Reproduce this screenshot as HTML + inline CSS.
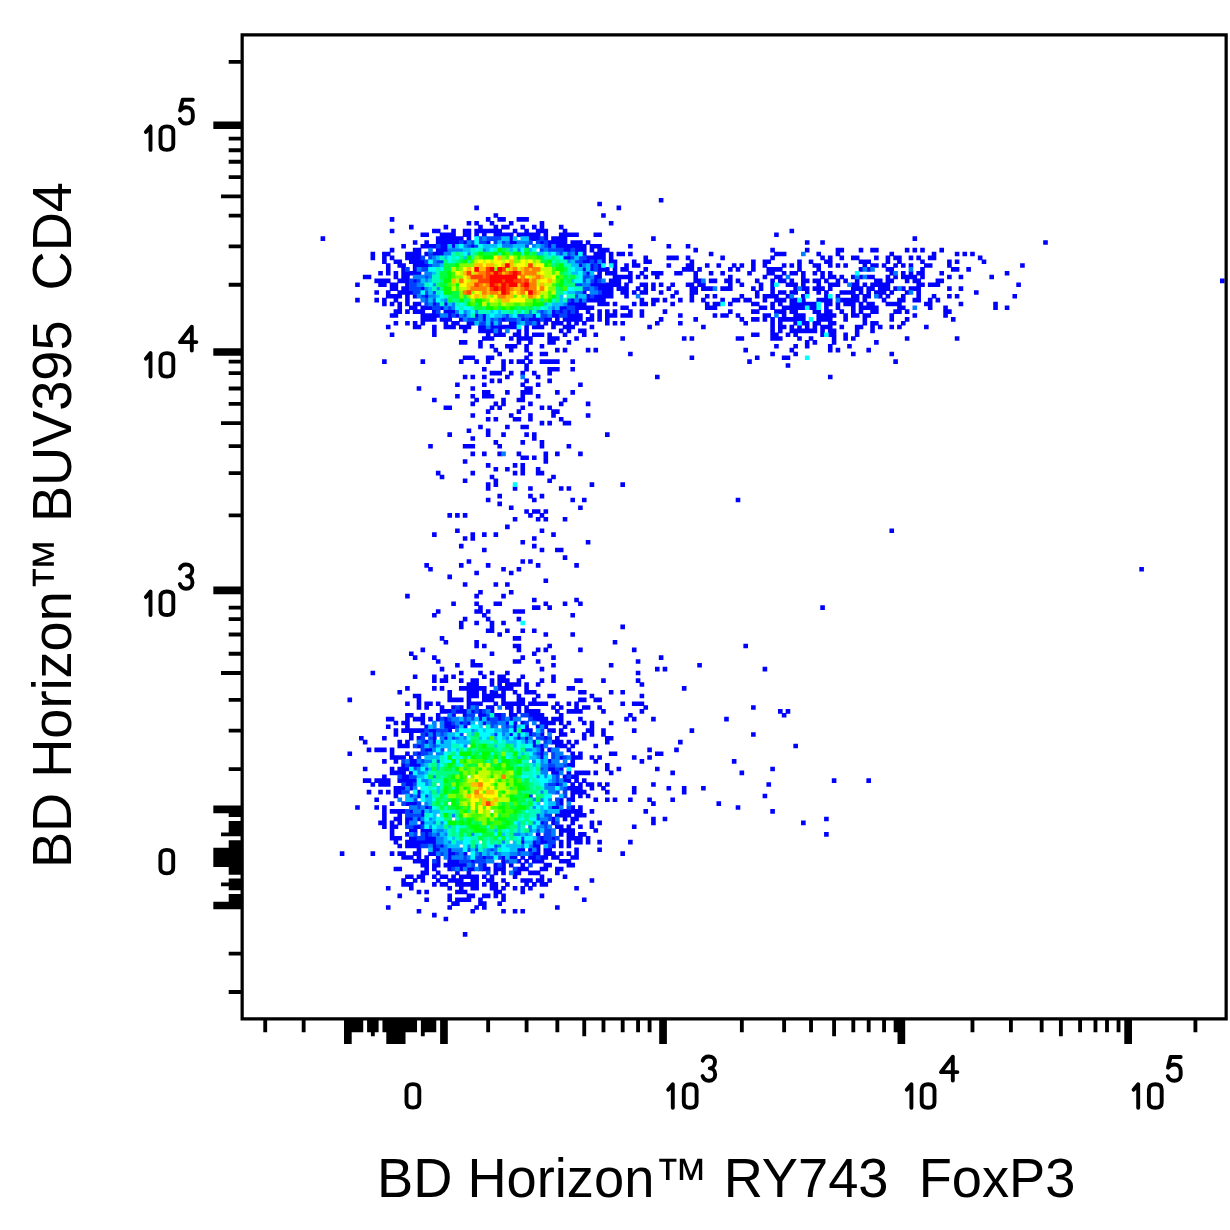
<!DOCTYPE html>
<html><head><meta charset="utf-8"><style>
html,body{margin:0;padding:0;background:#fff;}
body{width:1230px;height:1230px;position:relative;overflow:hidden;font-family:"Liberation Sans",sans-serif;color:#000}
svg{position:absolute;left:0;top:0}
.t{position:absolute;white-space:pre;line-height:1}
.lab{position:absolute;white-space:pre;line-height:1;font-size:38px;transform-origin:0 0}
</style></head><body>
<svg width="1230" height="1230" viewBox="0.5 0.42 320 320">
<g><path fill="#0000ff" d="M171.9 51.9h1.2v1.2h-1.2zM155.9 52.9h1.2v1.2h-1.2zM123.9 53.9h1.2v1.2h-1.2zM160.9 53.9h1.2v1.2h-1.2zM128.9 55.9h1.2v1.2h-1.2zM156.9 55.9h1.2v1.2h-1.2zM101.9 56.9h1.2v1.2h-1.2zM126.9 56.9h1.2v1.2h-1.2zM129.9 56.9h2.2v1.2h-2.2zM134.9 56.9h3.2v1.2h-3.2zM121.9 57.9h1.2v1.2h-1.2zM123.9 57.9h1.2v1.2h-1.2zM127.9 57.9h1.2v1.2h-1.2zM132.9 57.9h1.2v1.2h-1.2zM140.9 57.9h1.2v1.2h-1.2zM158.9 57.9h1.2v1.2h-1.2zM106.9 58.9h1.2v1.2h-1.2zM115.9 58.9h1.2v1.2h-1.2zM124.9 58.9h1.2v1.2h-1.2zM128.9 58.9h1.2v1.2h-1.2zM130.9 58.9h2.2v1.2h-2.2zM135.9 58.9h1.2v1.2h-1.2zM138.9 58.9h1.2v1.2h-1.2zM140.9 58.9h1.2v1.2h-1.2zM145.9 58.9h1.2v1.2h-1.2zM101.9 59.9h1.2v1.2h-1.2zM112.9 59.9h2.2v1.2h-2.2zM117.9 59.9h1.2v1.2h-1.2zM120.9 59.9h2.2v1.2h-2.2zM123.9 59.9h7.2v1.2h-7.2zM133.9 59.9h1.2v1.2h-1.2zM136.9 59.9h1.2v1.2h-1.2zM139.9 59.9h3.2v1.2h-3.2zM146.9 59.9h1.2v1.2h-1.2zM205.9 59.9h1.2v1.2h-1.2zM109.9 60.9h2.2v1.2h-2.2zM114.9 60.9h4.2v1.2h-4.2zM120.9 60.9h2.2v1.2h-2.2zM123.9 60.9h1.2v1.2h-1.2zM125.9 60.9h1.2v1.2h-1.2zM128.9 60.9h5.2v1.2h-5.2zM134.9 60.9h6.2v1.2h-6.2zM141.9 60.9h1.2v1.2h-1.2zM145.9 60.9h5.2v1.2h-5.2zM154.9 60.9h2.2v1.2h-2.2zM201.9 60.9h1.2v1.2h-1.2zM83.9 61.9h1.2v1.2h-1.2zM113.9 61.9h7.2v1.2h-7.2zM121.9 61.9h1.2v1.2h-1.2zM132.9 61.9h1.2v1.2h-1.2zM137.9 61.9h3.2v1.2h-3.2zM141.9 61.9h1.2v1.2h-1.2zM143.9 61.9h4.2v1.2h-4.2zM169.9 61.9h1.2v1.2h-1.2zM237.9 61.9h1.2v1.2h-1.2zM107.9 62.9h1.2v1.2h-1.2zM110.9 62.9h1.2v1.2h-1.2zM113.9 62.9h6.2v1.2h-6.2zM120.9 62.9h1.2v1.2h-1.2zM126.9 62.9h1.2v1.2h-1.2zM132.9 62.9h2.2v1.2h-2.2zM140.9 62.9h1.2v1.2h-1.2zM142.9 62.9h5.2v1.2h-5.2zM148.9 62.9h3.2v1.2h-3.2zM152.9 62.9h1.2v1.2h-1.2zM209.9 62.9h1.2v1.2h-1.2zM213.9 62.9h1.2v1.2h-1.2zM271.9 62.9h1.2v1.2h-1.2zM104.9 63.9h1.2v1.2h-1.2zM109.9 63.9h4.2v1.2h-4.2zM114.9 63.9h2.2v1.2h-2.2zM117.9 63.9h1.2v1.2h-1.2zM122.9 63.9h1.2v1.2h-1.2zM142.9 63.9h1.2v1.2h-1.2zM144.9 63.9h8.2v1.2h-8.2zM153.9 63.9h3.2v1.2h-3.2zM163.9 63.9h1.2v1.2h-1.2zM173.9 63.9h1.2v1.2h-1.2zM178.9 63.9h1.2v1.2h-1.2zM101.9 64.9h1.2v1.2h-1.2zM107.9 64.9h2.2v1.2h-2.2zM113.9 64.9h3.2v1.2h-3.2zM146.9 64.9h2.2v1.2h-2.2zM149.9 64.9h3.2v1.2h-3.2zM153.9 64.9h1.2v1.2h-1.2zM155.9 64.9h3.2v1.2h-3.2zM180.9 64.9h1.2v1.2h-1.2zM200.9 64.9h1.2v1.2h-1.2zM209.9 64.9h1.2v1.2h-1.2zM217.9 64.9h2.2v1.2h-2.2zM223.9 64.9h1.2v1.2h-1.2zM226.9 64.9h2.2v1.2h-2.2zM235.9 64.9h1.2v1.2h-1.2zM237.9 64.9h1.2v1.2h-1.2zM239.9 64.9h1.2v1.2h-1.2zM244.9 64.9h1.2v1.2h-1.2zM96.9 65.9h1.2v1.2h-1.2zM99.9 65.9h2.2v1.2h-2.2zM105.9 65.9h4.2v1.2h-4.2zM110.9 65.9h1.2v1.2h-1.2zM112.9 65.9h3.2v1.2h-3.2zM149.9 65.9h1.2v1.2h-1.2zM151.9 65.9h1.2v1.2h-1.2zM154.9 65.9h3.2v1.2h-3.2zM158.9 65.9h1.2v1.2h-1.2zM160.9 65.9h2.2v1.2h-2.2zM163.9 65.9h1.2v1.2h-1.2zM184.9 65.9h1.2v1.2h-1.2zM201.9 65.9h3.2v1.2h-3.2zM212.9 65.9h1.2v1.2h-1.2zM217.9 65.9h1.2v1.2h-1.2zM231.9 65.9h1.2v1.2h-1.2zM242.9 65.9h1.2v1.2h-1.2zM248.9 65.9h1.2v1.2h-1.2zM250.9 65.9h1.2v1.2h-1.2zM252.9 65.9h1.2v1.2h-1.2zM96.9 66.9h1.2v1.2h-1.2zM99.9 66.9h1.2v1.2h-1.2zM101.9 66.9h1.2v1.2h-1.2zM105.9 66.9h4.2v1.2h-4.2zM146.9 66.9h2.2v1.2h-2.2zM152.9 66.9h5.2v1.2h-5.2zM158.9 66.9h1.2v1.2h-1.2zM167.9 66.9h1.2v1.2h-1.2zM173.9 66.9h3.2v1.2h-3.2zM178.9 66.9h1.2v1.2h-1.2zM187.9 66.9h1.2v1.2h-1.2zM200.9 66.9h1.2v1.2h-1.2zM213.9 66.9h1.2v1.2h-1.2zM215.9 66.9h1.2v1.2h-1.2zM218.9 66.9h1.2v1.2h-1.2zM221.9 66.9h2.2v1.2h-2.2zM227.9 66.9h1.2v1.2h-1.2zM230.9 66.9h1.2v1.2h-1.2zM232.9 66.9h2.2v1.2h-2.2zM236.9 66.9h1.2v1.2h-1.2zM238.9 66.9h1.2v1.2h-1.2zM241.9 66.9h2.2v1.2h-2.2zM254.9 66.9h1.2v1.2h-1.2zM99.9 67.9h1.2v1.2h-1.2zM102.9 67.9h2.2v1.2h-2.2zM106.9 67.9h4.2v1.2h-4.2zM151.9 67.9h2.2v1.2h-2.2zM154.9 67.9h1.2v1.2h-1.2zM156.9 67.9h1.2v1.2h-1.2zM158.9 67.9h2.2v1.2h-2.2zM164.9 67.9h1.2v1.2h-1.2zM167.9 67.9h2.2v1.2h-2.2zM179.9 67.9h1.2v1.2h-1.2zM195.9 67.9h1.2v1.2h-1.2zM198.9 67.9h2.2v1.2h-2.2zM207.9 67.9h1.2v1.2h-1.2zM210.9 67.9h1.2v1.2h-1.2zM214.9 67.9h2.2v1.2h-2.2zM223.9 67.9h3.2v1.2h-3.2zM230.9 67.9h1.2v1.2h-1.2zM233.9 67.9h1.2v1.2h-1.2zM239.9 67.9h1.2v1.2h-1.2zM246.9 67.9h1.2v1.2h-1.2zM248.9 67.9h1.2v1.2h-1.2zM255.9 67.9h1.2v1.2h-1.2zM100.9 68.9h1.2v1.2h-1.2zM103.9 68.9h2.2v1.2h-2.2zM107.9 68.9h4.2v1.2h-4.2zM150.9 68.9h1.2v1.2h-1.2zM153.9 68.9h1.2v1.2h-1.2zM155.9 68.9h1.2v1.2h-1.2zM159.9 68.9h1.2v1.2h-1.2zM162.9 68.9h1.2v1.2h-1.2zM164.9 68.9h2.2v1.2h-2.2zM173.9 68.9h1.2v1.2h-1.2zM178.9 68.9h2.2v1.2h-2.2zM183.9 68.9h1.2v1.2h-1.2zM186.9 68.9h1.2v1.2h-1.2zM190.9 68.9h1.2v1.2h-1.2zM192.9 68.9h1.2v1.2h-1.2zM195.9 68.9h1.2v1.2h-1.2zM198.9 68.9h1.2v1.2h-1.2zM203.9 68.9h1.2v1.2h-1.2zM205.9 68.9h1.2v1.2h-1.2zM207.9 68.9h1.2v1.2h-1.2zM211.9 68.9h2.2v1.2h-2.2zM215.9 68.9h1.2v1.2h-1.2zM217.9 68.9h1.2v1.2h-1.2zM219.9 68.9h1.2v1.2h-1.2zM224.9 68.9h1.2v1.2h-1.2zM226.9 68.9h2.2v1.2h-2.2zM229.9 68.9h1.2v1.2h-1.2zM232.9 68.9h1.2v1.2h-1.2zM234.9 68.9h1.2v1.2h-1.2zM236.9 68.9h1.2v1.2h-1.2zM240.9 68.9h2.2v1.2h-2.2zM246.9 68.9h1.2v1.2h-1.2zM265.9 68.9h1.2v1.2h-1.2zM100.9 69.9h1.2v1.2h-1.2zM104.9 69.9h1.2v1.2h-1.2zM107.9 69.9h1.2v1.2h-1.2zM151.9 69.9h1.2v1.2h-1.2zM153.9 69.9h1.2v1.2h-1.2zM155.9 69.9h3.2v1.2h-3.2zM159.9 69.9h1.2v1.2h-1.2zM161.9 69.9h2.2v1.2h-2.2zM167.9 69.9h1.2v1.2h-1.2zM177.9 69.9h3.2v1.2h-3.2zM181.9 69.9h1.2v1.2h-1.2zM189.9 69.9h1.2v1.2h-1.2zM191.9 69.9h1.2v1.2h-1.2zM195.9 69.9h1.2v1.2h-1.2zM199.9 69.9h4.2v1.2h-4.2zM207.9 69.9h1.2v1.2h-1.2zM212.9 69.9h1.2v1.2h-1.2zM223.9 69.9h1.2v1.2h-1.2zM225.9 69.9h1.2v1.2h-1.2zM230.9 69.9h2.2v1.2h-2.2zM239.9 69.9h1.2v1.2h-1.2zM247.9 69.9h2.2v1.2h-2.2zM251.9 69.9h1.2v1.2h-1.2zM98.9 70.9h1.2v1.2h-1.2zM100.9 70.9h1.2v1.2h-1.2zM102.9 70.9h1.2v1.2h-1.2zM104.9 70.9h5.2v1.2h-5.2zM152.9 70.9h1.2v1.2h-1.2zM155.9 70.9h1.2v1.2h-1.2zM157.9 70.9h3.2v1.2h-3.2zM163.9 70.9h1.2v1.2h-1.2zM166.9 70.9h1.2v1.2h-1.2zM169.9 70.9h3.2v1.2h-3.2zM175.9 70.9h2.2v1.2h-2.2zM180.9 70.9h1.2v1.2h-1.2zM184.9 70.9h1.2v1.2h-1.2zM187.9 70.9h1.2v1.2h-1.2zM194.9 70.9h1.2v1.2h-1.2zM199.9 70.9h2.2v1.2h-2.2zM203.9 70.9h1.2v1.2h-1.2zM205.9 70.9h2.2v1.2h-2.2zM208.9 70.9h1.2v1.2h-1.2zM211.9 70.9h1.2v1.2h-1.2zM213.9 70.9h1.2v1.2h-1.2zM215.9 70.9h1.2v1.2h-1.2zM231.9 70.9h1.2v1.2h-1.2zM234.9 70.9h1.2v1.2h-1.2zM236.9 70.9h1.2v1.2h-1.2zM238.9 70.9h2.2v1.2h-2.2zM244.9 70.9h1.2v1.2h-1.2zM261.9 70.9h1.2v1.2h-1.2zM94.9 71.9h2.2v1.2h-2.2zM102.9 71.9h1.2v1.2h-1.2zM104.9 71.9h2.2v1.2h-2.2zM154.9 71.9h2.2v1.2h-2.2zM159.9 71.9h5.2v1.2h-5.2zM165.9 71.9h1.2v1.2h-1.2zM167.9 71.9h1.2v1.2h-1.2zM170.9 71.9h1.2v1.2h-1.2zM180.9 71.9h1.2v1.2h-1.2zM189.9 71.9h1.2v1.2h-1.2zM198.9 71.9h1.2v1.2h-1.2zM201.9 71.9h2.2v1.2h-2.2zM208.9 71.9h1.2v1.2h-1.2zM213.9 71.9h1.2v1.2h-1.2zM215.9 71.9h2.2v1.2h-2.2zM218.9 71.9h1.2v1.2h-1.2zM221.9 71.9h1.2v1.2h-1.2zM223.9 71.9h1.2v1.2h-1.2zM225.9 71.9h2.2v1.2h-2.2zM230.9 71.9h1.2v1.2h-1.2zM232.9 71.9h1.2v1.2h-1.2zM234.9 71.9h4.2v1.2h-4.2zM239.9 71.9h1.2v1.2h-1.2zM246.9 71.9h1.2v1.2h-1.2zM249.9 71.9h1.2v1.2h-1.2zM257.9 71.9h1.2v1.2h-1.2zM97.9 72.9h4.2v1.2h-4.2zM103.9 72.9h3.2v1.2h-3.2zM107.9 72.9h1.2v1.2h-1.2zM154.9 72.9h1.2v1.2h-1.2zM158.9 72.9h3.2v1.2h-3.2zM163.9 72.9h1.2v1.2h-1.2zM180.9 72.9h2.2v1.2h-2.2zM184.9 72.9h2.2v1.2h-2.2zM188.9 72.9h2.2v1.2h-2.2zM191.9 72.9h1.2v1.2h-1.2zM196.9 72.9h1.2v1.2h-1.2zM200.9 72.9h1.2v1.2h-1.2zM202.9 72.9h2.2v1.2h-2.2zM205.9 72.9h1.2v1.2h-1.2zM208.9 72.9h2.2v1.2h-2.2zM211.9 72.9h2.2v1.2h-2.2zM214.9 72.9h1.2v1.2h-1.2zM217.9 72.9h1.2v1.2h-1.2zM219.9 72.9h1.2v1.2h-1.2zM222.9 72.9h1.2v1.2h-1.2zM227.9 72.9h2.2v1.2h-2.2zM230.9 72.9h2.2v1.2h-2.2zM235.9 72.9h1.2v1.2h-1.2zM237.9 72.9h2.2v1.2h-2.2zM243.9 72.9h2.2v1.2h-2.2zM317.9 72.9h1.2v1.2h-1.2zM92.9 73.9h1.2v1.2h-1.2zM98.9 73.9h2.2v1.2h-2.2zM101.9 73.9h2.2v1.2h-2.2zM105.9 73.9h1.2v1.2h-1.2zM153.9 73.9h8.2v1.2h-8.2zM162.9 73.9h1.2v1.2h-1.2zM166.9 73.9h2.2v1.2h-2.2zM169.9 73.9h1.2v1.2h-1.2zM171.9 73.9h1.2v1.2h-1.2zM174.9 73.9h1.2v1.2h-1.2zM178.9 73.9h2.2v1.2h-2.2zM181.9 73.9h2.2v1.2h-2.2zM189.9 73.9h1.2v1.2h-1.2zM192.9 73.9h1.2v1.2h-1.2zM197.9 73.9h1.2v1.2h-1.2zM200.9 73.9h1.2v1.2h-1.2zM204.9 73.9h3.2v1.2h-3.2zM208.9 73.9h1.2v1.2h-1.2zM212.9 73.9h1.2v1.2h-1.2zM215.9 73.9h3.2v1.2h-3.2zM221.9 73.9h2.2v1.2h-2.2zM224.9 73.9h1.2v1.2h-1.2zM226.9 73.9h5.2v1.2h-5.2zM238.9 73.9h2.2v1.2h-2.2zM241.9 73.9h3.2v1.2h-3.2zM264.9 73.9h1.2v1.2h-1.2zM101.9 74.9h2.2v1.2h-2.2zM104.9 74.9h2.2v1.2h-2.2zM109.9 74.9h1.2v1.2h-1.2zM155.9 74.9h4.2v1.2h-4.2zM160.9 74.9h3.2v1.2h-3.2zM165.9 74.9h1.2v1.2h-1.2zM167.9 74.9h1.2v1.2h-1.2zM169.9 74.9h1.2v1.2h-1.2zM173.9 74.9h1.2v1.2h-1.2zM179.9 74.9h2.2v1.2h-2.2zM182.9 74.9h3.2v1.2h-3.2zM187.9 74.9h3.2v1.2h-3.2zM195.9 74.9h1.2v1.2h-1.2zM197.9 74.9h1.2v1.2h-1.2zM200.9 74.9h1.2v1.2h-1.2zM206.9 74.9h1.2v1.2h-1.2zM208.9 74.9h2.2v1.2h-2.2zM211.9 74.9h3.2v1.2h-3.2zM215.9 74.9h1.2v1.2h-1.2zM221.9 74.9h3.2v1.2h-3.2zM225.9 74.9h2.2v1.2h-2.2zM228.9 74.9h3.2v1.2h-3.2zM232.9 74.9h1.2v1.2h-1.2zM234.9 74.9h1.2v1.2h-1.2zM236.9 74.9h3.2v1.2h-3.2zM246.9 74.9h1.2v1.2h-1.2zM249.9 74.9h1.2v1.2h-1.2zM97.9 75.9h1.2v1.2h-1.2zM100.9 75.9h1.2v1.2h-1.2zM103.9 75.9h4.2v1.2h-4.2zM151.9 75.9h1.2v1.2h-1.2zM156.9 75.9h3.2v1.2h-3.2zM161.9 75.9h2.2v1.2h-2.2zM164.9 75.9h1.2v1.2h-1.2zM166.9 75.9h2.2v1.2h-2.2zM171.9 75.9h1.2v1.2h-1.2zM175.9 75.9h1.2v1.2h-1.2zM179.9 75.9h2.2v1.2h-2.2zM196.9 75.9h1.2v1.2h-1.2zM200.9 75.9h1.2v1.2h-1.2zM202.9 75.9h2.2v1.2h-2.2zM205.9 75.9h2.2v1.2h-2.2zM209.9 75.9h1.2v1.2h-1.2zM212.9 75.9h1.2v1.2h-1.2zM214.9 75.9h1.2v1.2h-1.2zM218.9 75.9h4.2v1.2h-4.2zM223.9 75.9h1.2v1.2h-1.2zM225.9 75.9h1.2v1.2h-1.2zM227.9 75.9h3.2v1.2h-3.2zM231.9 75.9h1.2v1.2h-1.2zM235.9 75.9h1.2v1.2h-1.2zM238.9 75.9h1.2v1.2h-1.2zM253.9 75.9h1.2v1.2h-1.2zM100.9 76.9h4.2v1.2h-4.2zM105.9 76.9h1.2v1.2h-1.2zM107.9 76.9h1.2v1.2h-1.2zM110.9 76.9h1.2v1.2h-1.2zM152.9 76.9h1.2v1.2h-1.2zM154.9 76.9h5.2v1.2h-5.2zM162.9 76.9h1.2v1.2h-1.2zM174.9 76.9h1.2v1.2h-1.2zM179.9 76.9h1.2v1.2h-1.2zM183.9 76.9h1.2v1.2h-1.2zM185.9 76.9h1.2v1.2h-1.2zM192.9 76.9h1.2v1.2h-1.2zM196.9 76.9h1.2v1.2h-1.2zM198.9 76.9h4.2v1.2h-4.2zM204.9 76.9h1.2v1.2h-1.2zM208.9 76.9h1.2v1.2h-1.2zM214.9 76.9h1.2v1.2h-1.2zM217.9 76.9h1.2v1.2h-1.2zM221.9 76.9h2.2v1.2h-2.2zM224.9 76.9h2.2v1.2h-2.2zM228.9 76.9h1.2v1.2h-1.2zM230.9 76.9h1.2v1.2h-1.2zM234.9 76.9h1.2v1.2h-1.2zM238.9 76.9h1.2v1.2h-1.2zM242.9 76.9h1.2v1.2h-1.2zM246.9 76.9h1.2v1.2h-1.2zM248.9 76.9h1.2v1.2h-1.2zM263.9 76.9h1.2v1.2h-1.2zM92.9 77.9h1.2v1.2h-1.2zM97.9 77.9h1.2v1.2h-1.2zM99.9 77.9h1.2v1.2h-1.2zM102.9 77.9h1.2v1.2h-1.2zM105.9 77.9h1.2v1.2h-1.2zM148.9 77.9h1.2v1.2h-1.2zM150.9 77.9h1.2v1.2h-1.2zM152.9 77.9h5.2v1.2h-5.2zM166.9 77.9h1.2v1.2h-1.2zM169.9 77.9h2.2v1.2h-2.2zM172.9 77.9h1.2v1.2h-1.2zM176.9 77.9h1.2v1.2h-1.2zM179.9 77.9h1.2v1.2h-1.2zM182.9 77.9h1.2v1.2h-1.2zM187.9 77.9h1.2v1.2h-1.2zM190.9 77.9h2.2v1.2h-2.2zM193.9 77.9h2.2v1.2h-2.2zM198.9 77.9h1.2v1.2h-1.2zM201.9 77.9h3.2v1.2h-3.2zM205.9 77.9h2.2v1.2h-2.2zM208.9 77.9h1.2v1.2h-1.2zM212.9 77.9h4.2v1.2h-4.2zM218.9 77.9h5.2v1.2h-5.2zM224.9 77.9h1.2v1.2h-1.2zM229.9 77.9h1.2v1.2h-1.2zM233.9 77.9h2.2v1.2h-2.2zM237.9 77.9h2.2v1.2h-2.2zM241.9 77.9h1.2v1.2h-1.2zM243.9 77.9h1.2v1.2h-1.2zM99.9 78.9h1.2v1.2h-1.2zM101.9 78.9h1.2v1.2h-1.2zM103.9 78.9h1.2v1.2h-1.2zM105.9 78.9h1.2v1.2h-1.2zM107.9 78.9h2.2v1.2h-2.2zM112.9 78.9h1.2v1.2h-1.2zM115.9 78.9h1.2v1.2h-1.2zM147.9 78.9h5.2v1.2h-5.2zM155.9 78.9h3.2v1.2h-3.2zM159.9 78.9h1.2v1.2h-1.2zM164.9 78.9h1.2v1.2h-1.2zM166.9 78.9h2.2v1.2h-2.2zM169.9 78.9h1.2v1.2h-1.2zM174.9 78.9h1.2v1.2h-1.2zM183.9 78.9h1.2v1.2h-1.2zM185.9 78.9h2.2v1.2h-2.2zM189.9 78.9h1.2v1.2h-1.2zM195.9 78.9h2.2v1.2h-2.2zM200.9 78.9h1.2v1.2h-1.2zM202.9 78.9h1.2v1.2h-1.2zM205.9 78.9h7.2v1.2h-7.2zM214.9 78.9h2.2v1.2h-2.2zM217.9 78.9h1.2v1.2h-1.2zM219.9 78.9h3.2v1.2h-3.2zM223.9 78.9h1.2v1.2h-1.2zM225.9 78.9h2.2v1.2h-2.2zM230.9 78.9h4.2v1.2h-4.2zM240.9 78.9h2.2v1.2h-2.2zM249.9 78.9h1.2v1.2h-1.2zM258.9 78.9h1.2v1.2h-1.2zM103.9 79.9h1.2v1.2h-1.2zM106.9 79.9h2.2v1.2h-2.2zM109.9 79.9h3.2v1.2h-3.2zM114.9 79.9h1.2v1.2h-1.2zM145.9 79.9h2.2v1.2h-2.2zM149.9 79.9h5.2v1.2h-5.2zM161.9 79.9h2.2v1.2h-2.2zM183.9 79.9h3.2v1.2h-3.2zM197.9 79.9h2.2v1.2h-2.2zM200.9 79.9h1.2v1.2h-1.2zM203.9 79.9h6.2v1.2h-6.2zM210.9 79.9h2.2v1.2h-2.2zM214.9 79.9h1.2v1.2h-1.2zM217.9 79.9h1.2v1.2h-1.2zM221.9 79.9h1.2v1.2h-1.2zM223.9 79.9h5.2v1.2h-5.2zM233.9 79.9h2.2v1.2h-2.2zM241.9 79.9h1.2v1.2h-1.2zM245.9 79.9h1.2v1.2h-1.2zM258.9 79.9h1.2v1.2h-1.2zM261.9 79.9h1.2v1.2h-1.2zM102.9 80.9h2.2v1.2h-2.2zM105.9 80.9h1.2v1.2h-1.2zM107.9 80.9h3.2v1.2h-3.2zM112.9 80.9h1.2v1.2h-1.2zM115.9 80.9h3.2v1.2h-3.2zM143.9 80.9h1.2v1.2h-1.2zM145.9 80.9h1.2v1.2h-1.2zM147.9 80.9h1.2v1.2h-1.2zM149.9 80.9h1.2v1.2h-1.2zM152.9 80.9h1.2v1.2h-1.2zM155.9 80.9h1.2v1.2h-1.2zM157.9 80.9h1.2v1.2h-1.2zM159.9 80.9h1.2v1.2h-1.2zM163.9 80.9h1.2v1.2h-1.2zM166.9 80.9h1.2v1.2h-1.2zM172.9 80.9h1.2v1.2h-1.2zM189.9 80.9h1.2v1.2h-1.2zM195.9 80.9h2.2v1.2h-2.2zM201.9 80.9h3.2v1.2h-3.2zM205.9 80.9h2.2v1.2h-2.2zM211.9 80.9h2.2v1.2h-2.2zM214.9 80.9h2.2v1.2h-2.2zM218.9 80.9h1.2v1.2h-1.2zM221.9 80.9h1.2v1.2h-1.2zM223.9 80.9h1.2v1.2h-1.2zM226.9 80.9h2.2v1.2h-2.2zM232.9 80.9h2.2v1.2h-2.2zM235.9 80.9h1.2v1.2h-1.2zM245.9 80.9h2.2v1.2h-2.2zM101.9 81.9h2.2v1.2h-2.2zM109.9 81.9h5.2v1.2h-5.2zM116.9 81.9h1.2v1.2h-1.2zM118.9 81.9h1.2v1.2h-1.2zM123.9 81.9h1.2v1.2h-1.2zM125.9 81.9h1.2v1.2h-1.2zM138.9 81.9h1.2v1.2h-1.2zM143.9 81.9h2.2v1.2h-2.2zM147.9 81.9h4.2v1.2h-4.2zM153.9 81.9h1.2v1.2h-1.2zM155.9 81.9h1.2v1.2h-1.2zM157.9 81.9h3.2v1.2h-3.2zM161.9 81.9h3.2v1.2h-3.2zM166.9 81.9h1.2v1.2h-1.2zM176.9 81.9h1.2v1.2h-1.2zM185.9 81.9h1.2v1.2h-1.2zM187.9 81.9h2.2v1.2h-2.2zM191.9 81.9h1.2v1.2h-1.2zM198.9 81.9h2.2v1.2h-2.2zM203.9 81.9h1.2v1.2h-1.2zM206.9 81.9h3.2v1.2h-3.2zM212.9 81.9h5.2v1.2h-5.2zM219.9 81.9h1.2v1.2h-1.2zM221.9 81.9h2.2v1.2h-2.2zM224.9 81.9h2.2v1.2h-2.2zM231.9 81.9h1.2v1.2h-1.2zM237.9 81.9h1.2v1.2h-1.2zM245.9 81.9h1.2v1.2h-1.2zM109.9 82.9h4.2v1.2h-4.2zM114.9 82.9h3.2v1.2h-3.2zM119.9 82.9h1.2v1.2h-1.2zM125.9 82.9h1.2v1.2h-1.2zM130.9 82.9h1.2v1.2h-1.2zM135.9 82.9h1.2v1.2h-1.2zM137.9 82.9h3.2v1.2h-3.2zM141.9 82.9h2.2v1.2h-2.2zM144.9 82.9h1.2v1.2h-1.2zM146.9 82.9h5.2v1.2h-5.2zM152.9 82.9h2.2v1.2h-2.2zM155.9 82.9h1.2v1.2h-1.2zM157.9 82.9h1.2v1.2h-1.2zM171.9 82.9h1.2v1.2h-1.2zM180.9 82.9h1.2v1.2h-1.2zM192.9 82.9h1.2v1.2h-1.2zM195.9 82.9h2.2v1.2h-2.2zM198.9 82.9h1.2v1.2h-1.2zM200.9 82.9h1.2v1.2h-1.2zM202.9 82.9h7.2v1.2h-7.2zM212.9 82.9h4.2v1.2h-4.2zM219.9 82.9h1.2v1.2h-1.2zM224.9 82.9h1.2v1.2h-1.2zM231.9 82.9h1.2v1.2h-1.2zM235.9 82.9h1.2v1.2h-1.2zM247.9 82.9h1.2v1.2h-1.2zM102.9 83.9h1.2v1.2h-1.2zM105.9 83.9h1.2v1.2h-1.2zM107.9 83.9h1.2v1.2h-1.2zM109.9 83.9h1.2v1.2h-1.2zM115.9 83.9h1.2v1.2h-1.2zM117.9 83.9h2.2v1.2h-2.2zM121.9 83.9h2.2v1.2h-2.2zM127.9 83.9h1.2v1.2h-1.2zM132.9 83.9h2.2v1.2h-2.2zM139.9 83.9h1.2v1.2h-1.2zM141.9 83.9h1.2v1.2h-1.2zM143.9 83.9h3.2v1.2h-3.2zM147.9 83.9h1.2v1.2h-1.2zM149.9 83.9h1.2v1.2h-1.2zM151.9 83.9h1.2v1.2h-1.2zM157.9 83.9h1.2v1.2h-1.2zM159.9 83.9h1.2v1.2h-1.2zM161.9 83.9h1.2v1.2h-1.2zM170.9 83.9h1.2v1.2h-1.2zM176.9 83.9h1.2v1.2h-1.2zM193.9 83.9h1.2v1.2h-1.2zM200.9 83.9h1.2v1.2h-1.2zM202.9 83.9h1.2v1.2h-1.2zM206.9 83.9h1.2v1.2h-1.2zM208.9 83.9h2.2v1.2h-2.2zM211.9 83.9h2.2v1.2h-2.2zM215.9 83.9h2.2v1.2h-2.2zM224.9 83.9h1.2v1.2h-1.2zM226.9 83.9h2.2v1.2h-2.2zM234.9 83.9h1.2v1.2h-1.2zM100.9 84.9h1.2v1.2h-1.2zM107.9 84.9h2.2v1.2h-2.2zM112.9 84.9h1.2v1.2h-1.2zM115.9 84.9h3.2v1.2h-3.2zM119.9 84.9h3.2v1.2h-3.2zM124.9 84.9h2.2v1.2h-2.2zM127.9 84.9h7.2v1.2h-7.2zM136.9 84.9h1.2v1.2h-1.2zM138.9 84.9h3.2v1.2h-3.2zM143.9 84.9h1.2v1.2h-1.2zM146.9 84.9h3.2v1.2h-3.2zM153.9 84.9h1.2v1.2h-1.2zM168.9 84.9h1.2v1.2h-1.2zM182.9 84.9h1.2v1.2h-1.2zM200.9 84.9h1.2v1.2h-1.2zM202.9 84.9h2.2v1.2h-2.2zM205.9 84.9h1.2v1.2h-1.2zM207.9 84.9h1.2v1.2h-1.2zM209.9 84.9h1.2v1.2h-1.2zM211.9 84.9h1.2v1.2h-1.2zM213.9 84.9h3.2v1.2h-3.2zM218.9 84.9h1.2v1.2h-1.2zM222.9 84.9h2.2v1.2h-2.2zM226.9 84.9h1.2v1.2h-1.2zM228.9 84.9h1.2v1.2h-1.2zM231.9 84.9h1.2v1.2h-1.2zM233.9 84.9h1.2v1.2h-1.2zM240.9 84.9h1.2v1.2h-1.2zM112.9 85.9h1.2v1.2h-1.2zM120.9 85.9h1.2v1.2h-1.2zM124.9 85.9h4.2v1.2h-4.2zM129.9 85.9h1.2v1.2h-1.2zM134.9 85.9h1.2v1.2h-1.2zM136.9 85.9h1.2v1.2h-1.2zM145.9 85.9h1.2v1.2h-1.2zM147.9 85.9h1.2v1.2h-1.2zM150.9 85.9h2.2v1.2h-2.2zM200.9 85.9h1.2v1.2h-1.2zM202.9 85.9h1.2v1.2h-1.2zM205.9 85.9h7.2v1.2h-7.2zM213.9 85.9h1.2v1.2h-1.2zM215.9 85.9h2.2v1.2h-2.2zM222.9 85.9h1.2v1.2h-1.2zM226.9 85.9h1.2v1.2h-1.2zM101.9 86.9h1.2v1.2h-1.2zM112.9 86.9h1.2v1.2h-1.2zM126.9 86.9h1.2v1.2h-1.2zM128.9 86.9h3.2v1.2h-3.2zM133.9 86.9h2.2v1.2h-2.2zM136.9 86.9h1.2v1.2h-1.2zM138.9 86.9h3.2v1.2h-3.2zM142.9 86.9h1.2v1.2h-1.2zM146.9 86.9h1.2v1.2h-1.2zM151.9 86.9h1.2v1.2h-1.2zM154.9 86.9h1.2v1.2h-1.2zM195.9 86.9h2.2v1.2h-2.2zM200.9 86.9h2.2v1.2h-2.2zM204.9 86.9h1.2v1.2h-1.2zM206.9 86.9h1.2v1.2h-1.2zM213.9 86.9h1.2v1.2h-1.2zM215.9 86.9h2.2v1.2h-2.2zM219.9 86.9h1.2v1.2h-1.2zM222.9 86.9h1.2v1.2h-1.2zM125.9 87.9h3.2v1.2h-3.2zM132.9 87.9h1.2v1.2h-1.2zM134.9 87.9h4.2v1.2h-4.2zM142.9 87.9h3.2v1.2h-3.2zM149.9 87.9h1.2v1.2h-1.2zM161.9 87.9h1.2v1.2h-1.2zM177.9 87.9h1.2v1.2h-1.2zM179.9 87.9h1.2v1.2h-1.2zM191.9 87.9h2.2v1.2h-2.2zM200.9 87.9h3.2v1.2h-3.2zM207.9 87.9h1.2v1.2h-1.2zM210.9 87.9h1.2v1.2h-1.2zM216.9 87.9h1.2v1.2h-1.2zM219.9 87.9h1.2v1.2h-1.2zM221.9 87.9h1.2v1.2h-1.2zM235.9 87.9h1.2v1.2h-1.2zM248.9 87.9h1.2v1.2h-1.2zM119.9 88.9h2.2v1.2h-2.2zM124.9 88.9h1.2v1.2h-1.2zM134.9 88.9h1.2v1.2h-1.2zM137.9 88.9h1.2v1.2h-1.2zM142.9 88.9h2.2v1.2h-2.2zM147.9 88.9h1.2v1.2h-1.2zM209.9 88.9h1.2v1.2h-1.2zM211.9 88.9h1.2v1.2h-1.2zM216.9 88.9h1.2v1.2h-1.2zM227.9 88.9h1.2v1.2h-1.2zM124.9 89.9h1.2v1.2h-1.2zM127.9 89.9h1.2v1.2h-1.2zM131.9 89.9h3.2v1.2h-3.2zM136.9 89.9h1.2v1.2h-1.2zM140.9 89.9h1.2v1.2h-1.2zM201.9 89.9h1.2v1.2h-1.2zM206.9 89.9h1.2v1.2h-1.2zM209.9 89.9h1.2v1.2h-1.2zM215.9 89.9h1.2v1.2h-1.2zM220.9 89.9h1.2v1.2h-1.2zM128.9 90.9h1.2v1.2h-1.2zM132.9 90.9h1.2v1.2h-1.2zM136.9 90.9h1.2v1.2h-1.2zM144.9 90.9h1.2v1.2h-1.2zM146.9 90.9h1.2v1.2h-1.2zM152.9 90.9h1.2v1.2h-1.2zM154.9 90.9h1.2v1.2h-1.2zM193.9 90.9h1.2v1.2h-1.2zM205.9 90.9h1.2v1.2h-1.2zM215.9 90.9h1.2v1.2h-1.2zM217.9 90.9h1.2v1.2h-1.2zM225.9 90.9h1.2v1.2h-1.2zM129.9 91.9h1.2v1.2h-1.2zM137.9 91.9h1.2v1.2h-1.2zM140.9 91.9h2.2v1.2h-2.2zM163.9 91.9h1.2v1.2h-1.2zM200.9 91.9h1.2v1.2h-1.2zM206.9 91.9h1.2v1.2h-1.2zM221.9 91.9h1.2v1.2h-1.2zM231.9 91.9h1.2v1.2h-1.2zM120.9 92.9h3.2v1.2h-3.2zM126.9 92.9h2.2v1.2h-2.2zM136.9 92.9h1.2v1.2h-1.2zM179.9 92.9h1.2v1.2h-1.2zM196.9 92.9h1.2v1.2h-1.2zM203.9 92.9h2.2v1.2h-2.2zM99.9 93.9h1.2v1.2h-1.2zM109.9 93.9h1.2v1.2h-1.2zM119.9 93.9h1.2v1.2h-1.2zM123.9 93.9h1.2v1.2h-1.2zM126.9 93.9h1.2v1.2h-1.2zM130.9 93.9h1.2v1.2h-1.2zM132.9 93.9h1.2v1.2h-1.2zM134.9 93.9h2.2v1.2h-2.2zM137.9 93.9h1.2v1.2h-1.2zM140.9 93.9h5.2v1.2h-5.2zM148.9 93.9h1.2v1.2h-1.2zM194.9 93.9h1.2v1.2h-1.2zM232.9 93.9h1.2v1.2h-1.2zM130.9 94.9h1.2v1.2h-1.2zM136.9 94.9h1.2v1.2h-1.2zM204.9 94.9h1.2v1.2h-1.2zM125.9 95.9h1.2v1.2h-1.2zM130.9 95.9h1.2v1.2h-1.2zM136.9 95.9h1.2v1.2h-1.2zM142.9 95.9h3.2v1.2h-3.2zM148.9 95.9h1.2v1.2h-1.2zM127.9 96.9h3.2v1.2h-3.2zM132.9 96.9h1.2v1.2h-1.2zM135.9 96.9h1.2v1.2h-1.2zM138.9 96.9h1.2v1.2h-1.2zM142.9 96.9h1.2v1.2h-1.2zM120.9 97.9h1.2v1.2h-1.2zM122.9 97.9h1.2v1.2h-1.2zM125.9 97.9h1.2v1.2h-1.2zM131.9 97.9h1.2v1.2h-1.2zM139.9 97.9h1.2v1.2h-1.2zM170.9 97.9h1.2v1.2h-1.2zM215.9 97.9h1.2v1.2h-1.2zM127.9 98.9h1.2v1.2h-1.2zM129.9 98.9h1.2v1.2h-1.2zM136.9 98.9h1.2v1.2h-1.2zM142.9 98.9h1.2v1.2h-1.2zM118.9 99.9h1.2v1.2h-1.2zM125.9 99.9h1.2v1.2h-1.2zM135.9 99.9h1.2v1.2h-1.2zM139.9 99.9h1.2v1.2h-1.2zM150.9 99.9h1.2v1.2h-1.2zM108.9 100.9h1.2v1.2h-1.2zM122.9 100.9h1.2v1.2h-1.2zM136.9 100.9h2.2v1.2h-2.2zM125.9 101.9h2.2v1.2h-2.2zM131.9 101.9h1.2v1.2h-1.2zM135.9 101.9h3.2v1.2h-3.2zM144.9 101.9h1.2v1.2h-1.2zM148.9 101.9h1.2v1.2h-1.2zM118.9 102.9h1.2v1.2h-1.2zM122.9 102.9h1.2v1.2h-1.2zM125.9 102.9h3.2v1.2h-3.2zM135.9 102.9h1.2v1.2h-1.2zM139.9 102.9h1.2v1.2h-1.2zM112.9 103.9h1.2v1.2h-1.2zM123.9 103.9h1.2v1.2h-1.2zM130.9 103.9h1.2v1.2h-1.2zM134.9 103.9h2.2v1.2h-2.2zM146.9 103.9h1.2v1.2h-1.2zM122.9 104.9h1.2v1.2h-1.2zM128.9 104.9h1.2v1.2h-1.2zM130.9 104.9h1.2v1.2h-1.2zM137.9 104.9h1.2v1.2h-1.2zM145.9 104.9h1.2v1.2h-1.2zM152.9 104.9h1.2v1.2h-1.2zM115.9 105.9h2.2v1.2h-2.2zM127.9 105.9h1.2v1.2h-1.2zM129.9 105.9h1.2v1.2h-1.2zM135.9 105.9h1.2v1.2h-1.2zM140.9 105.9h1.2v1.2h-1.2zM142.9 105.9h1.2v1.2h-1.2zM126.9 106.9h1.2v1.2h-1.2zM134.9 106.9h1.2v1.2h-1.2zM143.9 106.9h2.2v1.2h-2.2zM122.9 107.9h1.2v1.2h-1.2zM132.9 107.9h1.2v1.2h-1.2zM137.9 107.9h1.2v1.2h-1.2zM143.9 107.9h1.2v1.2h-1.2zM152.9 107.9h1.2v1.2h-1.2zM126.9 108.9h1.2v1.2h-1.2zM128.9 108.9h1.2v1.2h-1.2zM133.9 108.9h2.2v1.2h-2.2zM137.9 108.9h1.2v1.2h-1.2zM145.9 108.9h1.2v1.2h-1.2zM140.9 109.9h1.2v1.2h-1.2zM142.9 109.9h1.2v1.2h-1.2zM146.9 109.9h2.2v1.2h-2.2zM124.9 110.9h1.2v1.2h-1.2zM131.9 110.9h1.2v1.2h-1.2zM135.9 110.9h2.2v1.2h-2.2zM121.9 111.9h1.2v1.2h-1.2zM126.9 111.9h1.2v1.2h-1.2zM116.9 112.9h1.2v1.2h-1.2zM126.9 112.9h1.2v1.2h-1.2zM130.9 112.9h1.2v1.2h-1.2zM136.9 112.9h1.2v1.2h-1.2zM138.9 112.9h1.2v1.2h-1.2zM157.9 112.9h1.2v1.2h-1.2zM122.9 113.9h1.2v1.2h-1.2zM138.9 113.9h1.2v1.2h-1.2zM128.9 114.9h1.2v1.2h-1.2zM135.9 114.9h1.2v1.2h-1.2zM140.9 114.9h1.2v1.2h-1.2zM111.9 115.9h1.2v1.2h-1.2zM120.9 115.9h3.2v1.2h-3.2zM129.9 115.9h1.2v1.2h-1.2zM140.9 115.9h1.2v1.2h-1.2zM147.9 115.9h1.2v1.2h-1.2zM122.9 117.9h1.2v1.2h-1.2zM125.9 117.9h1.2v1.2h-1.2zM129.9 117.9h1.2v1.2h-1.2zM134.9 117.9h1.2v1.2h-1.2zM141.9 117.9h1.2v1.2h-1.2zM144.9 117.9h1.2v1.2h-1.2zM150.9 117.9h1.2v1.2h-1.2zM135.9 118.9h2.2v1.2h-2.2zM138.9 118.9h1.2v1.2h-1.2zM141.9 118.9h1.2v1.2h-1.2zM120.9 119.9h1.2v1.2h-1.2zM141.9 119.9h1.2v1.2h-1.2zM126.9 120.9h1.2v1.2h-1.2zM133.9 120.9h1.2v1.2h-1.2zM135.9 120.9h1.2v1.2h-1.2zM128.9 121.9h1.2v1.2h-1.2zM131.9 121.9h1.2v1.2h-1.2zM135.9 121.9h1.2v1.2h-1.2zM139.9 121.9h1.2v1.2h-1.2zM113.9 122.9h1.2v1.2h-1.2zM122.9 122.9h1.2v1.2h-1.2zM133.9 122.9h1.2v1.2h-1.2zM135.9 122.9h1.2v1.2h-1.2zM139.9 122.9h2.2v1.2h-2.2zM114.9 123.9h1.2v1.2h-1.2zM127.9 123.9h1.2v1.2h-1.2zM143.9 123.9h1.2v1.2h-1.2zM120.9 124.9h1.2v1.2h-1.2zM128.9 124.9h1.2v1.2h-1.2zM142.9 124.9h1.2v1.2h-1.2zM126.9 125.9h1.2v1.2h-1.2zM128.9 125.9h1.2v1.2h-1.2zM153.9 125.9h1.2v1.2h-1.2zM161.9 125.9h1.2v1.2h-1.2zM126.9 126.9h1.2v1.2h-1.2zM133.9 126.9h1.2v1.2h-1.2zM137.9 126.9h1.2v1.2h-1.2zM145.9 126.9h1.2v1.2h-1.2zM147.9 126.9h1.2v1.2h-1.2zM129.9 128.9h1.2v1.2h-1.2zM137.9 128.9h1.2v1.2h-1.2zM140.9 128.9h1.2v1.2h-1.2zM126.9 129.9h1.2v1.2h-1.2zM138.9 129.9h1.2v1.2h-1.2zM148.9 129.9h1.2v1.2h-1.2zM151.9 129.9h1.2v1.2h-1.2zM191.9 129.9h1.2v1.2h-1.2zM129.9 130.9h1.2v1.2h-1.2zM132.9 131.9h1.2v1.2h-1.2zM150.9 131.9h1.2v1.2h-1.2zM136.9 132.9h1.2v1.2h-1.2zM138.9 132.9h2.2v1.2h-2.2zM141.9 132.9h1.2v1.2h-1.2zM116.9 133.9h1.2v1.2h-1.2zM118.9 133.9h1.2v1.2h-1.2zM120.9 133.9h1.2v1.2h-1.2zM137.9 133.9h1.2v1.2h-1.2zM140.9 133.9h1.2v1.2h-1.2zM133.9 134.9h1.2v1.2h-1.2zM139.9 134.9h1.2v1.2h-1.2zM141.9 134.9h1.2v1.2h-1.2zM146.9 134.9h1.2v1.2h-1.2zM131.9 136.9h1.2v1.2h-1.2zM118.9 137.9h1.2v1.2h-1.2zM140.9 137.9h1.2v1.2h-1.2zM231.9 137.9h1.2v1.2h-1.2zM112.9 138.9h1.2v1.2h-1.2zM122.9 138.9h1.2v1.2h-1.2zM125.9 138.9h1.2v1.2h-1.2zM128.9 138.9h1.2v1.2h-1.2zM143.9 138.9h1.2v1.2h-1.2zM120.9 139.9h1.2v1.2h-1.2zM122.9 139.9h1.2v1.2h-1.2zM138.9 139.9h1.2v1.2h-1.2zM135.9 140.9h1.2v1.2h-1.2zM152.9 140.9h1.2v1.2h-1.2zM119.9 141.9h1.2v1.2h-1.2zM138.9 141.9h1.2v1.2h-1.2zM125.9 142.9h1.2v1.2h-1.2zM140.9 142.9h1.2v1.2h-1.2zM144.9 142.9h2.2v1.2h-2.2zM146.9 144.9h1.2v1.2h-1.2zM121.9 145.9h1.2v1.2h-1.2zM135.9 145.9h1.2v1.2h-1.2zM137.9 145.9h1.2v1.2h-1.2zM110.9 146.9h1.2v1.2h-1.2zM119.9 146.9h1.2v1.2h-1.2zM126.9 146.9h1.2v1.2h-1.2zM139.9 146.9h1.2v1.2h-1.2zM149.9 146.9h1.2v1.2h-1.2zM111.9 147.9h1.2v1.2h-1.2zM130.9 147.9h1.2v1.2h-1.2zM134.9 147.9h1.2v1.2h-1.2zM296.9 147.9h1.2v1.2h-1.2zM123.9 148.9h1.2v1.2h-1.2zM132.9 148.9h1.2v1.2h-1.2zM116.9 149.9h1.2v1.2h-1.2zM141.9 150.9h1.2v1.2h-1.2zM120.9 151.9h1.2v1.2h-1.2zM128.9 151.9h1.2v1.2h-1.2zM131.9 151.9h1.2v1.2h-1.2zM124.9 153.9h1.2v1.2h-1.2zM132.9 153.9h1.2v1.2h-1.2zM105.9 154.9h1.2v1.2h-1.2zM123.9 154.9h1.2v1.2h-1.2zM130.9 154.9h1.2v1.2h-1.2zM138.9 155.9h1.2v1.2h-1.2zM149.9 155.9h1.2v1.2h-1.2zM117.9 156.9h1.2v1.2h-1.2zM123.9 156.9h1.2v1.2h-1.2zM128.9 156.9h2.2v1.2h-2.2zM141.9 156.9h1.2v1.2h-1.2zM146.9 156.9h1.2v1.2h-1.2zM150.9 156.9h1.2v1.2h-1.2zM124.9 157.9h1.2v1.2h-1.2zM138.9 157.9h2.2v1.2h-2.2zM142.9 157.9h1.2v1.2h-1.2zM213.9 157.9h1.2v1.2h-1.2zM113.9 158.9h1.2v1.2h-1.2zM123.9 158.9h2.2v1.2h-2.2zM126.9 158.9h1.2v1.2h-1.2zM133.9 158.9h3.2v1.2h-3.2zM112.9 159.9h1.2v1.2h-1.2zM125.9 159.9h1.2v1.2h-1.2zM148.9 159.9h1.2v1.2h-1.2zM120.9 160.9h1.2v1.2h-1.2zM126.9 160.9h1.2v1.2h-1.2zM134.9 160.9h1.2v1.2h-1.2zM119.9 161.9h1.2v1.2h-1.2zM123.9 161.9h1.2v1.2h-1.2zM127.9 161.9h1.2v1.2h-1.2zM130.9 161.9h1.2v1.2h-1.2zM119.9 162.9h1.2v1.2h-1.2zM127.9 162.9h1.2v1.2h-1.2zM161.9 162.9h1.2v1.2h-1.2zM126.9 163.9h2.2v1.2h-2.2zM131.9 163.9h1.2v1.2h-1.2zM135.9 163.9h1.2v1.2h-1.2zM138.9 163.9h1.2v1.2h-1.2zM129.9 164.9h1.2v1.2h-1.2zM141.9 164.9h1.2v1.2h-1.2zM148.9 164.9h1.2v1.2h-1.2zM114.9 165.9h1.2v1.2h-1.2zM133.9 165.9h2.2v1.2h-2.2zM115.9 166.9h1.2v1.2h-1.2zM123.9 166.9h1.2v1.2h-1.2zM159.9 166.9h1.2v1.2h-1.2zM123.9 167.9h1.2v1.2h-1.2zM125.9 167.9h1.2v1.2h-1.2zM133.9 167.9h2.2v1.2h-2.2zM142.9 167.9h1.2v1.2h-1.2zM193.9 167.9h1.2v1.2h-1.2zM109.9 168.9h1.2v1.2h-1.2zM134.9 168.9h1.2v1.2h-1.2zM139.9 168.9h1.2v1.2h-1.2zM141.9 168.9h1.2v1.2h-1.2zM150.9 168.9h1.2v1.2h-1.2zM164.9 168.9h1.2v1.2h-1.2zM106.9 169.9h1.2v1.2h-1.2zM127.9 169.9h1.2v1.2h-1.2zM138.9 169.9h1.2v1.2h-1.2zM107.9 170.9h1.2v1.2h-1.2zM112.9 170.9h1.2v1.2h-1.2zM135.9 170.9h1.2v1.2h-1.2zM143.9 170.9h1.2v1.2h-1.2zM171.9 170.9h1.2v1.2h-1.2zM113.9 171.9h1.2v1.2h-1.2zM122.9 171.9h1.2v1.2h-1.2zM133.9 171.9h2.2v1.2h-2.2zM139.9 171.9h1.2v1.2h-1.2zM165.9 171.9h1.2v1.2h-1.2zM118.9 172.9h1.2v1.2h-1.2zM122.9 172.9h3.2v1.2h-3.2zM143.9 172.9h1.2v1.2h-1.2zM158.9 172.9h1.2v1.2h-1.2zM181.9 172.9h1.2v1.2h-1.2zM114.9 173.9h1.2v1.2h-1.2zM140.9 173.9h1.2v1.2h-1.2zM170.9 173.9h1.2v1.2h-1.2zM172.9 173.9h1.2v1.2h-1.2zM198.9 173.9h1.2v1.2h-1.2zM96.9 174.9h1.2v1.2h-1.2zM119.9 174.9h1.2v1.2h-1.2zM124.9 174.9h1.2v1.2h-1.2zM127.9 174.9h1.2v1.2h-1.2zM131.9 174.9h1.2v1.2h-1.2zM165.9 174.9h1.2v1.2h-1.2zM107.9 175.9h1.2v1.2h-1.2zM112.9 175.9h1.2v1.2h-1.2zM115.9 175.9h1.2v1.2h-1.2zM117.9 175.9h1.2v1.2h-1.2zM125.9 175.9h1.2v1.2h-1.2zM129.9 175.9h2.2v1.2h-2.2zM135.9 175.9h1.2v1.2h-1.2zM143.9 175.9h1.2v1.2h-1.2zM112.9 176.9h1.2v1.2h-1.2zM114.9 176.9h2.2v1.2h-2.2zM119.9 176.9h1.2v1.2h-1.2zM122.9 176.9h2.2v1.2h-2.2zM127.9 176.9h1.2v1.2h-1.2zM129.9 176.9h3.2v1.2h-3.2zM134.9 176.9h1.2v1.2h-1.2zM140.9 176.9h1.2v1.2h-1.2zM143.9 176.9h1.2v1.2h-1.2zM149.9 176.9h2.2v1.2h-2.2zM156.9 176.9h1.2v1.2h-1.2zM165.9 176.9h1.2v1.2h-1.2zM121.9 177.9h3.2v1.2h-3.2zM127.9 177.9h1.2v1.2h-1.2zM129.9 177.9h1.2v1.2h-1.2zM131.9 177.9h4.2v1.2h-4.2zM136.9 177.9h1.2v1.2h-1.2zM139.9 177.9h1.2v1.2h-1.2zM166.9 177.9h1.2v1.2h-1.2zM105.9 178.9h1.2v1.2h-1.2zM112.9 178.9h1.2v1.2h-1.2zM114.9 178.9h1.2v1.2h-1.2zM119.9 178.9h7.2v1.2h-7.2zM129.9 178.9h4.2v1.2h-4.2zM136.9 178.9h1.2v1.2h-1.2zM147.9 178.9h2.2v1.2h-2.2zM177.9 178.9h1.2v1.2h-1.2zM103.9 179.9h1.2v1.2h-1.2zM116.9 179.9h1.2v1.2h-1.2zM121.9 179.9h3.2v1.2h-3.2zM125.9 179.9h1.2v1.2h-1.2zM127.9 179.9h2.2v1.2h-2.2zM130.9 179.9h1.2v1.2h-1.2zM133.9 179.9h1.2v1.2h-1.2zM136.9 179.9h3.2v1.2h-3.2zM150.9 179.9h2.2v1.2h-2.2zM158.9 179.9h1.2v1.2h-1.2zM161.9 179.9h1.2v1.2h-1.2zM107.9 180.9h2.2v1.2h-2.2zM116.9 180.9h1.2v1.2h-1.2zM121.9 180.9h3.2v1.2h-3.2zM125.9 180.9h6.2v1.2h-6.2zM134.9 180.9h1.2v1.2h-1.2zM139.9 180.9h1.2v1.2h-1.2zM142.9 180.9h2.2v1.2h-2.2zM153.9 180.9h1.2v1.2h-1.2zM166.9 180.9h1.2v1.2h-1.2zM90.9 181.9h1.2v1.2h-1.2zM108.9 181.9h1.2v1.2h-1.2zM116.9 181.9h4.2v1.2h-4.2zM121.9 181.9h1.2v1.2h-1.2zM125.9 181.9h3.2v1.2h-3.2zM130.9 181.9h1.2v1.2h-1.2zM134.9 181.9h2.2v1.2h-2.2zM138.9 181.9h1.2v1.2h-1.2zM150.9 181.9h2.2v1.2h-2.2zM154.9 181.9h2.2v1.2h-2.2zM105.9 182.9h1.2v1.2h-1.2zM108.9 182.9h1.2v1.2h-1.2zM110.9 182.9h2.2v1.2h-2.2zM113.9 182.9h1.2v1.2h-1.2zM121.9 182.9h4.2v1.2h-4.2zM128.9 182.9h1.2v1.2h-1.2zM130.9 182.9h6.2v1.2h-6.2zM137.9 182.9h5.2v1.2h-5.2zM144.9 182.9h1.2v1.2h-1.2zM147.9 182.9h1.2v1.2h-1.2zM149.9 182.9h1.2v1.2h-1.2zM161.9 182.9h1.2v1.2h-1.2zM164.9 182.9h3.2v1.2h-3.2zM108.9 183.9h1.2v1.2h-1.2zM110.9 183.9h1.2v1.2h-1.2zM114.9 183.9h1.2v1.2h-1.2zM117.9 183.9h1.2v1.2h-1.2zM119.9 183.9h1.2v1.2h-1.2zM121.9 183.9h1.2v1.2h-1.2zM126.9 183.9h2.2v1.2h-2.2zM131.9 183.9h2.2v1.2h-2.2zM134.9 183.9h1.2v1.2h-1.2zM136.9 183.9h1.2v1.2h-1.2zM143.9 183.9h1.2v1.2h-1.2zM145.9 183.9h1.2v1.2h-1.2zM149.9 183.9h1.2v1.2h-1.2zM151.9 183.9h2.2v1.2h-2.2zM155.9 183.9h1.2v1.2h-1.2zM167.9 183.9h1.2v1.2h-1.2zM195.9 183.9h1.2v1.2h-1.2zM114.9 184.9h3.2v1.2h-3.2zM118.9 184.9h3.2v1.2h-3.2zM122.9 184.9h1.2v1.2h-1.2zM124.9 184.9h1.2v1.2h-1.2zM127.9 184.9h1.2v1.2h-1.2zM132.9 184.9h1.2v1.2h-1.2zM134.9 184.9h1.2v1.2h-1.2zM136.9 184.9h4.2v1.2h-4.2zM144.9 184.9h1.2v1.2h-1.2zM147.9 184.9h4.2v1.2h-4.2zM156.9 184.9h1.2v1.2h-1.2zM166.9 184.9h1.2v1.2h-1.2zM202.9 184.9h1.2v1.2h-1.2zM204.9 184.9h1.2v1.2h-1.2zM105.9 185.9h2.2v1.2h-2.2zM109.9 185.9h1.2v1.2h-1.2zM113.9 185.9h1.2v1.2h-1.2zM117.9 185.9h1.2v1.2h-1.2zM120.9 185.9h1.2v1.2h-1.2zM124.9 185.9h2.2v1.2h-2.2zM128.9 185.9h2.2v1.2h-2.2zM132.9 185.9h2.2v1.2h-2.2zM137.9 185.9h4.2v1.2h-4.2zM145.9 185.9h1.2v1.2h-1.2zM163.9 185.9h1.2v1.2h-1.2zM203.9 185.9h1.2v1.2h-1.2zM100.9 186.9h2.2v1.2h-2.2zM105.9 186.9h1.2v1.2h-1.2zM107.9 186.9h3.2v1.2h-3.2zM111.9 186.9h1.2v1.2h-1.2zM113.9 186.9h1.2v1.2h-1.2zM115.9 186.9h1.2v1.2h-1.2zM124.9 186.9h1.2v1.2h-1.2zM126.9 186.9h1.2v1.2h-1.2zM129.9 186.9h1.2v1.2h-1.2zM132.9 186.9h1.2v1.2h-1.2zM138.9 186.9h4.2v1.2h-4.2zM143.9 186.9h3.2v1.2h-3.2zM150.9 186.9h1.2v1.2h-1.2zM162.9 186.9h1.2v1.2h-1.2zM164.9 186.9h1.2v1.2h-1.2zM169.9 186.9h1.2v1.2h-1.2zM188.9 186.9h1.2v1.2h-1.2zM102.9 187.9h1.2v1.2h-1.2zM104.9 187.9h2.2v1.2h-2.2zM109.9 187.9h1.2v1.2h-1.2zM115.9 187.9h2.2v1.2h-2.2zM119.9 187.9h1.2v1.2h-1.2zM121.9 187.9h1.2v1.2h-1.2zM125.9 187.9h1.2v1.2h-1.2zM131.9 187.9h1.2v1.2h-1.2zM133.9 187.9h1.2v1.2h-1.2zM135.9 187.9h1.2v1.2h-1.2zM140.9 187.9h4.2v1.2h-4.2zM145.9 187.9h1.2v1.2h-1.2zM147.9 187.9h1.2v1.2h-1.2zM151.9 187.9h1.2v1.2h-1.2zM153.9 187.9h1.2v1.2h-1.2zM158.9 187.9h1.2v1.2h-1.2zM100.9 188.9h1.2v1.2h-1.2zM105.9 188.9h1.2v1.2h-1.2zM110.9 188.9h1.2v1.2h-1.2zM115.9 188.9h3.2v1.2h-3.2zM120.9 188.9h1.2v1.2h-1.2zM133.9 188.9h1.2v1.2h-1.2zM136.9 188.9h1.2v1.2h-1.2zM139.9 188.9h1.2v1.2h-1.2zM141.9 188.9h1.2v1.2h-1.2zM146.9 188.9h1.2v1.2h-1.2zM153.9 188.9h1.2v1.2h-1.2zM102.9 189.9h1.2v1.2h-1.2zM104.9 189.9h6.2v1.2h-6.2zM111.9 189.9h2.2v1.2h-2.2zM116.9 189.9h1.2v1.2h-1.2zM133.9 189.9h1.2v1.2h-1.2zM135.9 189.9h3.2v1.2h-3.2zM142.9 189.9h2.2v1.2h-2.2zM145.9 189.9h1.2v1.2h-1.2zM148.9 189.9h1.2v1.2h-1.2zM152.9 189.9h2.2v1.2h-2.2zM156.9 189.9h1.2v1.2h-1.2zM164.9 189.9h1.2v1.2h-1.2zM179.9 189.9h1.2v1.2h-1.2zM102.9 190.9h1.2v1.2h-1.2zM106.9 190.9h1.2v1.2h-1.2zM110.9 190.9h1.2v1.2h-1.2zM112.9 190.9h1.2v1.2h-1.2zM132.9 190.9h1.2v1.2h-1.2zM137.9 190.9h1.2v1.2h-1.2zM140.9 190.9h1.2v1.2h-1.2zM145.9 190.9h2.2v1.2h-2.2zM151.9 190.9h1.2v1.2h-1.2zM153.9 190.9h1.2v1.2h-1.2zM156.9 190.9h1.2v1.2h-1.2zM195.9 190.9h1.2v1.2h-1.2zM93.9 191.9h1.2v1.2h-1.2zM99.9 191.9h1.2v1.2h-1.2zM106.9 191.9h1.2v1.2h-1.2zM108.9 191.9h1.2v1.2h-1.2zM112.9 191.9h1.2v1.2h-1.2zM115.9 191.9h1.2v1.2h-1.2zM134.9 191.9h1.2v1.2h-1.2zM136.9 191.9h1.2v1.2h-1.2zM141.9 191.9h1.2v1.2h-1.2zM144.9 191.9h1.2v1.2h-1.2zM151.9 191.9h1.2v1.2h-1.2zM157.9 191.9h2.2v1.2h-2.2zM94.9 192.9h1.2v1.2h-1.2zM103.9 192.9h1.2v1.2h-1.2zM105.9 192.9h1.2v1.2h-1.2zM110.9 192.9h1.2v1.2h-1.2zM112.9 192.9h1.2v1.2h-1.2zM138.9 192.9h1.2v1.2h-1.2zM143.9 192.9h3.2v1.2h-3.2zM147.9 192.9h1.2v1.2h-1.2zM149.9 192.9h1.2v1.2h-1.2zM157.9 192.9h1.2v1.2h-1.2zM176.9 192.9h1.2v1.2h-1.2zM103.9 193.9h3.2v1.2h-3.2zM108.9 193.9h1.2v1.2h-1.2zM138.9 193.9h1.2v1.2h-1.2zM140.9 193.9h1.2v1.2h-1.2zM144.9 193.9h3.2v1.2h-3.2zM148.9 193.9h1.2v1.2h-1.2zM154.9 193.9h1.2v1.2h-1.2zM206.9 193.9h1.2v1.2h-1.2zM95.9 194.9h1.2v1.2h-1.2zM97.9 194.9h3.2v1.2h-3.2zM101.9 194.9h1.2v1.2h-1.2zM110.9 194.9h2.2v1.2h-2.2zM140.9 194.9h1.2v1.2h-1.2zM142.9 194.9h1.2v1.2h-1.2zM147.9 194.9h1.2v1.2h-1.2zM168.9 194.9h1.2v1.2h-1.2zM175.9 194.9h1.2v1.2h-1.2zM90.9 195.9h1.2v1.2h-1.2zM101.9 195.9h1.2v1.2h-1.2zM105.9 195.9h1.2v1.2h-1.2zM108.9 195.9h1.2v1.2h-1.2zM140.9 195.9h1.2v1.2h-1.2zM148.9 195.9h1.2v1.2h-1.2zM150.9 195.9h1.2v1.2h-1.2zM158.9 195.9h2.2v1.2h-2.2zM170.9 195.9h2.2v1.2h-2.2zM101.9 196.9h4.2v1.2h-4.2zM106.9 196.9h1.2v1.2h-1.2zM140.9 196.9h1.2v1.2h-1.2zM145.9 196.9h1.2v1.2h-1.2zM148.9 196.9h3.2v1.2h-3.2zM153.9 196.9h1.2v1.2h-1.2zM155.9 196.9h1.2v1.2h-1.2zM164.9 196.9h1.2v1.2h-1.2zM168.9 196.9h1.2v1.2h-1.2zM99.9 197.9h1.2v1.2h-1.2zM102.9 197.9h1.2v1.2h-1.2zM106.9 197.9h2.2v1.2h-2.2zM142.9 197.9h1.2v1.2h-1.2zM148.9 197.9h1.2v1.2h-1.2zM154.9 197.9h1.2v1.2h-1.2zM166.9 197.9h1.2v1.2h-1.2zM190.9 197.9h1.2v1.2h-1.2zM104.9 198.9h1.2v1.2h-1.2zM106.9 198.9h3.2v1.2h-3.2zM147.9 198.9h2.2v1.2h-2.2zM157.9 198.9h1.2v1.2h-1.2zM94.9 199.9h1.2v1.2h-1.2zM101.9 199.9h1.2v1.2h-1.2zM103.9 199.9h3.2v1.2h-3.2zM142.9 199.9h2.2v1.2h-2.2zM145.9 199.9h1.2v1.2h-1.2zM157.9 199.9h1.2v1.2h-1.2zM160.9 199.9h1.2v1.2h-1.2zM170.9 199.9h1.2v1.2h-1.2zM200.9 199.9h1.2v1.2h-1.2zM101.9 200.9h4.2v1.2h-4.2zM106.9 200.9h1.2v1.2h-1.2zM143.9 200.9h2.2v1.2h-2.2zM147.9 200.9h1.2v1.2h-1.2zM149.9 200.9h4.2v1.2h-4.2zM154.9 200.9h1.2v1.2h-1.2zM158.9 200.9h1.2v1.2h-1.2zM174.9 200.9h1.2v1.2h-1.2zM192.9 200.9h1.2v1.2h-1.2zM99.9 201.9h1.2v1.2h-1.2zM104.9 201.9h2.2v1.2h-2.2zM146.9 201.9h1.2v1.2h-1.2zM148.9 201.9h2.2v1.2h-2.2zM94.9 202.9h2.2v1.2h-2.2zM97.9 202.9h4.2v1.2h-4.2zM103.9 202.9h5.2v1.2h-5.2zM146.9 202.9h2.2v1.2h-2.2zM149.9 202.9h1.2v1.2h-1.2zM151.9 202.9h1.2v1.2h-1.2zM216.9 202.9h1.2v1.2h-1.2zM225.9 202.9h1.2v1.2h-1.2zM96.9 203.9h1.2v1.2h-1.2zM98.9 203.9h3.2v1.2h-3.2zM105.9 203.9h2.2v1.2h-2.2zM144.9 203.9h1.2v1.2h-1.2zM148.9 203.9h1.2v1.2h-1.2zM150.9 203.9h1.2v1.2h-1.2zM152.9 203.9h2.2v1.2h-2.2zM155.9 203.9h1.2v1.2h-1.2zM157.9 203.9h1.2v1.2h-1.2zM169.9 203.9h1.2v1.2h-1.2zM199.9 203.9h1.2v1.2h-1.2zM102.9 204.9h3.2v1.2h-3.2zM106.9 204.9h1.2v1.2h-1.2zM147.9 204.9h4.2v1.2h-4.2zM153.9 204.9h1.2v1.2h-1.2zM156.9 204.9h1.2v1.2h-1.2zM164.9 204.9h1.2v1.2h-1.2zM173.9 204.9h1.2v1.2h-1.2zM177.9 204.9h1.2v1.2h-1.2zM182.9 204.9h1.2v1.2h-1.2zM95.9 205.9h1.2v1.2h-1.2zM98.9 205.9h1.2v1.2h-1.2zM100.9 205.9h1.2v1.2h-1.2zM102.9 205.9h2.2v1.2h-2.2zM108.9 205.9h1.2v1.2h-1.2zM148.9 205.9h4.2v1.2h-4.2zM157.9 205.9h1.2v1.2h-1.2zM164.9 205.9h1.2v1.2h-1.2zM177.9 205.9h1.2v1.2h-1.2zM102.9 206.9h1.2v1.2h-1.2zM108.9 206.9h1.2v1.2h-1.2zM148.9 206.9h1.2v1.2h-1.2zM150.9 206.9h1.2v1.2h-1.2zM152.9 206.9h1.2v1.2h-1.2zM198.9 206.9h1.2v1.2h-1.2zM97.9 207.9h1.2v1.2h-1.2zM145.9 207.9h1.2v1.2h-1.2zM147.9 207.9h2.2v1.2h-2.2zM154.9 207.9h1.2v1.2h-1.2zM157.9 207.9h1.2v1.2h-1.2zM159.9 207.9h1.2v1.2h-1.2zM163.9 207.9h1.2v1.2h-1.2zM168.9 207.9h1.2v1.2h-1.2zM174.9 207.9h1.2v1.2h-1.2zM101.9 208.9h1.2v1.2h-1.2zM105.9 208.9h3.2v1.2h-3.2zM145.9 208.9h1.2v1.2h-1.2zM169.9 208.9h1.2v1.2h-1.2zM186.9 208.9h1.2v1.2h-1.2zM92.9 209.9h1.2v1.2h-1.2zM97.9 209.9h1.2v1.2h-1.2zM99.9 209.9h1.2v1.2h-1.2zM110.9 209.9h1.2v1.2h-1.2zM143.9 209.9h2.2v1.2h-2.2zM148.9 209.9h1.2v1.2h-1.2zM150.9 209.9h1.2v1.2h-1.2zM191.9 209.9h1.2v1.2h-1.2zM99.9 210.9h1.2v1.2h-1.2zM101.9 210.9h4.2v1.2h-4.2zM106.9 210.9h1.2v1.2h-1.2zM109.9 210.9h1.2v1.2h-1.2zM145.9 210.9h6.2v1.2h-6.2zM153.9 210.9h1.2v1.2h-1.2zM167.9 210.9h1.2v1.2h-1.2zM200.9 210.9h1.2v1.2h-1.2zM99.9 211.9h1.2v1.2h-1.2zM103.9 211.9h1.2v1.2h-1.2zM109.9 211.9h1.2v1.2h-1.2zM144.9 211.9h4.2v1.2h-4.2zM149.9 211.9h3.2v1.2h-3.2zM99.9 212.9h1.2v1.2h-1.2zM102.9 212.9h2.2v1.2h-2.2zM105.9 212.9h2.2v1.2h-2.2zM108.9 212.9h1.2v1.2h-1.2zM143.9 212.9h1.2v1.2h-1.2zM146.9 212.9h1.2v1.2h-1.2zM148.9 212.9h2.2v1.2h-2.2zM169.9 212.9h1.2v1.2h-1.2zM172.9 212.9h1.2v1.2h-1.2zM214.9 212.9h1.2v1.2h-1.2zM98.9 213.9h2.2v1.2h-2.2zM101.9 213.9h1.2v1.2h-1.2zM103.9 213.9h1.2v1.2h-1.2zM105.9 213.9h1.2v1.2h-1.2zM109.9 213.9h1.2v1.2h-1.2zM140.9 213.9h1.2v1.2h-1.2zM143.9 213.9h1.2v1.2h-1.2zM148.9 213.9h1.2v1.2h-1.2zM153.9 213.9h1.2v1.2h-1.2zM155.9 213.9h1.2v1.2h-1.2zM169.9 213.9h1.2v1.2h-1.2zM208.9 213.9h1.2v1.2h-1.2zM99.9 214.9h1.2v1.2h-1.2zM101.9 214.9h2.2v1.2h-2.2zM107.9 214.9h2.2v1.2h-2.2zM144.9 214.9h2.2v1.2h-2.2zM147.9 214.9h1.2v1.2h-1.2zM150.9 214.9h1.2v1.2h-1.2zM153.9 214.9h1.2v1.2h-1.2zM164.9 214.9h1.2v1.2h-1.2zM101.9 215.9h1.2v1.2h-1.2zM106.9 215.9h2.2v1.2h-2.2zM109.9 215.9h3.2v1.2h-3.2zM145.9 215.9h4.2v1.2h-4.2zM154.9 215.9h1.2v1.2h-1.2zM101.9 216.9h1.2v1.2h-1.2zM105.9 216.9h1.2v1.2h-1.2zM110.9 216.9h1.2v1.2h-1.2zM139.9 216.9h1.2v1.2h-1.2zM145.9 216.9h1.2v1.2h-1.2zM147.9 216.9h2.2v1.2h-2.2zM150.9 216.9h2.2v1.2h-2.2zM214.9 216.9h1.2v1.2h-1.2zM101.9 217.9h3.2v1.2h-3.2zM106.9 217.9h2.2v1.2h-2.2zM110.9 217.9h3.2v1.2h-3.2zM140.9 217.9h1.2v1.2h-1.2zM143.9 217.9h1.2v1.2h-1.2zM147.9 217.9h4.2v1.2h-4.2zM152.9 217.9h1.2v1.2h-1.2zM102.9 218.9h1.2v1.2h-1.2zM105.9 218.9h8.2v1.2h-8.2zM135.9 218.9h1.2v1.2h-1.2zM138.9 218.9h1.2v1.2h-1.2zM140.9 218.9h2.2v1.2h-2.2zM145.9 218.9h1.2v1.2h-1.2zM147.9 218.9h1.2v1.2h-1.2zM149.9 218.9h2.2v1.2h-2.2zM152.9 218.9h1.2v1.2h-1.2zM155.9 218.9h1.2v1.2h-1.2zM163.9 218.9h1.2v1.2h-1.2zM103.9 219.9h1.2v1.2h-1.2zM105.9 219.9h4.2v1.2h-4.2zM112.9 219.9h1.2v1.2h-1.2zM114.9 219.9h1.2v1.2h-1.2zM138.9 219.9h2.2v1.2h-2.2zM143.9 219.9h1.2v1.2h-1.2zM145.9 219.9h1.2v1.2h-1.2zM147.9 219.9h1.2v1.2h-1.2zM108.9 220.9h1.2v1.2h-1.2zM112.9 220.9h2.2v1.2h-2.2zM116.9 220.9h1.2v1.2h-1.2zM134.9 220.9h2.2v1.2h-2.2zM137.9 220.9h1.2v1.2h-1.2zM139.9 220.9h1.2v1.2h-1.2zM141.9 220.9h2.2v1.2h-2.2zM149.9 220.9h1.2v1.2h-1.2zM155.9 220.9h1.2v1.2h-1.2zM88.9 221.9h1.2v1.2h-1.2zM96.9 221.9h1.2v1.2h-1.2zM101.9 221.9h1.2v1.2h-1.2zM103.9 221.9h2.2v1.2h-2.2zM107.9 221.9h2.2v1.2h-2.2zM111.9 221.9h2.2v1.2h-2.2zM116.9 221.9h2.2v1.2h-2.2zM120.9 221.9h1.2v1.2h-1.2zM138.9 221.9h2.2v1.2h-2.2zM141.9 221.9h3.2v1.2h-3.2zM145.9 221.9h1.2v1.2h-1.2zM147.9 221.9h1.2v1.2h-1.2zM149.9 221.9h1.2v1.2h-1.2zM161.9 221.9h1.2v1.2h-1.2zM104.9 222.9h3.2v1.2h-3.2zM108.9 222.9h1.2v1.2h-1.2zM110.9 222.9h1.2v1.2h-1.2zM113.9 222.9h1.2v1.2h-1.2zM116.9 222.9h1.2v1.2h-1.2zM125.9 222.9h1.2v1.2h-1.2zM130.9 222.9h1.2v1.2h-1.2zM132.9 222.9h2.2v1.2h-2.2zM135.9 222.9h1.2v1.2h-1.2zM137.9 222.9h2.2v1.2h-2.2zM140.9 222.9h2.2v1.2h-2.2zM143.9 222.9h2.2v1.2h-2.2zM148.9 222.9h2.2v1.2h-2.2zM107.9 223.9h4.2v1.2h-4.2zM113.9 223.9h1.2v1.2h-1.2zM116.9 223.9h3.2v1.2h-3.2zM122.9 223.9h1.2v1.2h-1.2zM130.9 223.9h1.2v1.2h-1.2zM134.9 223.9h1.2v1.2h-1.2zM136.9 223.9h1.2v1.2h-1.2zM138.9 223.9h3.2v1.2h-3.2zM145.9 223.9h3.2v1.2h-3.2zM109.9 224.9h2.2v1.2h-2.2zM112.9 224.9h2.2v1.2h-2.2zM115.9 224.9h6.2v1.2h-6.2zM125.9 224.9h1.2v1.2h-1.2zM128.9 224.9h1.2v1.2h-1.2zM130.9 224.9h1.2v1.2h-1.2zM132.9 224.9h1.2v1.2h-1.2zM135.9 224.9h1.2v1.2h-1.2zM141.9 224.9h2.2v1.2h-2.2zM147.9 224.9h2.2v1.2h-2.2zM102.9 225.9h2.2v1.2h-2.2zM110.9 225.9h1.2v1.2h-1.2zM112.9 225.9h1.2v1.2h-1.2zM116.9 225.9h1.2v1.2h-1.2zM119.9 225.9h1.2v1.2h-1.2zM121.9 225.9h2.2v1.2h-2.2zM125.9 225.9h2.2v1.2h-2.2zM128.9 225.9h3.2v1.2h-3.2zM134.9 225.9h3.2v1.2h-3.2zM140.9 225.9h2.2v1.2h-2.2zM144.9 225.9h2.2v1.2h-2.2zM109.9 226.9h2.2v1.2h-2.2zM113.9 226.9h1.2v1.2h-1.2zM118.9 226.9h1.2v1.2h-1.2zM121.9 226.9h1.2v1.2h-1.2zM128.9 226.9h1.2v1.2h-1.2zM130.9 226.9h1.2v1.2h-1.2zM133.9 226.9h2.2v1.2h-2.2zM137.9 226.9h3.2v1.2h-3.2zM144.9 226.9h1.2v1.2h-1.2zM105.9 227.9h2.2v1.2h-2.2zM108.9 227.9h2.2v1.2h-2.2zM112.9 227.9h1.2v1.2h-1.2zM114.9 227.9h2.2v1.2h-2.2zM117.9 227.9h1.2v1.2h-1.2zM119.9 227.9h5.2v1.2h-5.2zM125.9 227.9h1.2v1.2h-1.2zM127.9 227.9h1.2v1.2h-1.2zM133.9 227.9h1.2v1.2h-1.2zM140.9 227.9h1.2v1.2h-1.2zM146.9 227.9h1.2v1.2h-1.2zM104.9 228.9h1.2v1.2h-1.2zM107.9 228.9h1.2v1.2h-1.2zM109.9 228.9h1.2v1.2h-1.2zM113.9 228.9h1.2v1.2h-1.2zM116.9 228.9h4.2v1.2h-4.2zM122.9 228.9h2.2v1.2h-2.2zM126.9 228.9h2.2v1.2h-2.2zM130.9 228.9h1.2v1.2h-1.2zM135.9 228.9h3.2v1.2h-3.2zM139.9 228.9h2.2v1.2h-2.2zM142.9 228.9h1.2v1.2h-1.2zM153.9 228.9h1.2v1.2h-1.2zM104.9 229.9h3.2v1.2h-3.2zM112.9 229.9h1.2v1.2h-1.2zM114.9 229.9h2.2v1.2h-2.2zM118.9 229.9h6.2v1.2h-6.2zM125.9 229.9h1.2v1.2h-1.2zM127.9 229.9h2.2v1.2h-2.2zM131.9 229.9h1.2v1.2h-1.2zM136.9 229.9h1.2v1.2h-1.2zM138.9 229.9h1.2v1.2h-1.2zM140.9 229.9h2.2v1.2h-2.2zM100.9 230.9h1.2v1.2h-1.2zM106.9 230.9h1.2v1.2h-1.2zM116.9 230.9h1.2v1.2h-1.2zM119.9 230.9h1.2v1.2h-1.2zM122.9 230.9h2.2v1.2h-2.2zM127.9 230.9h2.2v1.2h-2.2zM130.9 230.9h1.2v1.2h-1.2zM133.9 230.9h1.2v1.2h-1.2zM135.9 230.9h1.2v1.2h-1.2zM137.9 230.9h1.2v1.2h-1.2zM149.9 230.9h1.2v1.2h-1.2zM108.9 231.9h1.2v1.2h-1.2zM110.9 231.9h1.2v1.2h-1.2zM118.9 231.9h3.2v1.2h-3.2zM128.9 231.9h2.2v1.2h-2.2zM135.9 231.9h1.2v1.2h-1.2zM103.9 232.9h1.2v1.2h-1.2zM116.9 232.9h1.2v1.2h-1.2zM121.9 232.9h2.2v1.2h-2.2zM125.9 232.9h2.2v1.2h-2.2zM128.9 232.9h1.2v1.2h-1.2zM130.9 232.9h1.2v1.2h-1.2zM140.9 232.9h1.2v1.2h-1.2zM110.9 233.9h1.2v1.2h-1.2zM116.9 233.9h1.2v1.2h-1.2zM118.9 233.9h4.2v1.2h-4.2zM124.9 233.9h1.2v1.2h-1.2zM130.9 233.9h1.2v1.2h-1.2zM151.9 233.9h1.2v1.2h-1.2zM117.9 234.9h2.2v1.2h-2.2zM124.9 234.9h2.2v1.2h-2.2zM129.9 234.9h1.2v1.2h-1.2zM100.9 235.9h1.2v1.2h-1.2zM116.9 235.9h1.2v1.2h-1.2zM123.9 235.9h1.2v1.2h-1.2zM125.9 235.9h1.2v1.2h-1.2zM144.9 235.9h1.2v1.2h-1.2zM108.9 236.9h1.2v1.2h-1.2zM122.9 236.9h1.2v1.2h-1.2zM130.9 236.9h1.2v1.2h-1.2zM133.9 236.9h1.2v1.2h-1.2zM135.9 236.9h1.2v1.2h-1.2zM112.9 237.9h1.2v1.2h-1.2zM115.9 238.9h1.2v1.2h-1.2zM120.9 242.9h1.2v1.2h-1.2z"/>
<path fill="#0040ff" d="M124.9 61.9h1.2v1.2h-1.2zM126.9 61.9h4.2v1.2h-4.2zM140.9 61.9h1.2v1.2h-1.2zM119.9 62.9h1.2v1.2h-1.2zM122.9 62.9h1.2v1.2h-1.2zM124.9 62.9h2.2v1.2h-2.2zM128.9 62.9h1.2v1.2h-1.2zM130.9 62.9h1.2v1.2h-1.2zM137.9 62.9h1.2v1.2h-1.2zM139.9 62.9h1.2v1.2h-1.2zM141.9 62.9h1.2v1.2h-1.2zM113.9 63.9h1.2v1.2h-1.2zM121.9 63.9h1.2v1.2h-1.2zM123.9 63.9h1.2v1.2h-1.2zM136.9 63.9h1.2v1.2h-1.2zM141.9 63.9h1.2v1.2h-1.2zM140.9 64.9h1.2v1.2h-1.2zM142.9 64.9h4.2v1.2h-4.2zM148.9 64.9h1.2v1.2h-1.2zM111.9 65.9h1.2v1.2h-1.2zM145.9 65.9h1.2v1.2h-1.2zM147.9 65.9h1.2v1.2h-1.2zM109.9 66.9h1.2v1.2h-1.2zM111.9 66.9h1.2v1.2h-1.2zM148.9 66.9h1.2v1.2h-1.2zM150.9 66.9h2.2v1.2h-2.2zM110.9 67.9h1.2v1.2h-1.2zM113.9 67.9h2.2v1.2h-2.2zM149.9 67.9h2.2v1.2h-2.2zM153.9 67.9h1.2v1.2h-1.2zM111.9 68.9h1.2v1.2h-1.2zM154.9 68.9h1.2v1.2h-1.2zM105.9 69.9h1.2v1.2h-1.2zM109.9 69.9h2.2v1.2h-2.2zM154.9 69.9h1.2v1.2h-1.2zM110.9 71.9h1.2v1.2h-1.2zM151.9 71.9h2.2v1.2h-2.2zM106.9 72.9h1.2v1.2h-1.2zM108.9 72.9h1.2v1.2h-1.2zM151.9 72.9h1.2v1.2h-1.2zM153.9 72.9h1.2v1.2h-1.2zM155.9 72.9h1.2v1.2h-1.2zM106.9 73.9h2.2v1.2h-2.2zM149.9 73.9h2.2v1.2h-2.2zM106.9 74.9h3.2v1.2h-3.2zM151.9 74.9h2.2v1.2h-2.2zM154.9 74.9h1.2v1.2h-1.2zM107.9 75.9h2.2v1.2h-2.2zM110.9 75.9h1.2v1.2h-1.2zM112.9 75.9h1.2v1.2h-1.2zM155.9 75.9h1.2v1.2h-1.2zM109.9 76.9h1.2v1.2h-1.2zM149.9 76.9h1.2v1.2h-1.2zM153.9 76.9h1.2v1.2h-1.2zM110.9 77.9h1.2v1.2h-1.2zM112.9 77.9h1.2v1.2h-1.2zM147.9 77.9h1.2v1.2h-1.2zM110.9 78.9h1.2v1.2h-1.2zM113.9 78.9h1.2v1.2h-1.2zM112.9 79.9h2.2v1.2h-2.2zM116.9 79.9h1.2v1.2h-1.2zM147.9 79.9h2.2v1.2h-2.2zM113.9 80.9h1.2v1.2h-1.2zM140.9 80.9h1.2v1.2h-1.2zM144.9 80.9h1.2v1.2h-1.2zM146.9 80.9h1.2v1.2h-1.2zM148.9 80.9h1.2v1.2h-1.2zM117.9 81.9h1.2v1.2h-1.2zM120.9 81.9h1.2v1.2h-1.2zM131.9 81.9h1.2v1.2h-1.2zM134.9 81.9h2.2v1.2h-2.2zM140.9 81.9h2.2v1.2h-2.2zM145.9 81.9h2.2v1.2h-2.2zM121.9 82.9h3.2v1.2h-3.2zM127.9 82.9h1.2v1.2h-1.2zM129.9 82.9h1.2v1.2h-1.2zM131.9 82.9h3.2v1.2h-3.2zM136.9 82.9h1.2v1.2h-1.2zM140.9 82.9h1.2v1.2h-1.2zM124.9 83.9h2.2v1.2h-2.2zM129.9 83.9h1.2v1.2h-1.2zM136.9 83.9h2.2v1.2h-2.2zM118.9 183.9h1.2v1.2h-1.2zM123.9 183.9h1.2v1.2h-1.2zM117.9 184.9h1.2v1.2h-1.2zM123.9 184.9h1.2v1.2h-1.2zM125.9 184.9h1.2v1.2h-1.2zM121.9 185.9h2.2v1.2h-2.2zM126.9 185.9h1.2v1.2h-1.2zM130.9 185.9h1.2v1.2h-1.2zM135.9 185.9h2.2v1.2h-2.2zM114.9 186.9h1.2v1.2h-1.2zM116.9 186.9h1.2v1.2h-1.2zM120.9 186.9h1.2v1.2h-1.2zM122.9 186.9h1.2v1.2h-1.2zM127.9 186.9h2.2v1.2h-2.2zM130.9 186.9h1.2v1.2h-1.2zM137.9 186.9h1.2v1.2h-1.2zM117.9 187.9h1.2v1.2h-1.2zM120.9 187.9h1.2v1.2h-1.2zM127.9 187.9h2.2v1.2h-2.2zM136.9 187.9h1.2v1.2h-1.2zM118.9 188.9h1.2v1.2h-1.2zM127.9 188.9h1.2v1.2h-1.2zM131.9 188.9h1.2v1.2h-1.2zM110.9 189.9h1.2v1.2h-1.2zM113.9 189.9h3.2v1.2h-3.2zM140.9 189.9h1.2v1.2h-1.2zM109.9 190.9h1.2v1.2h-1.2zM114.9 190.9h1.2v1.2h-1.2zM119.9 190.9h1.2v1.2h-1.2zM128.9 190.9h1.2v1.2h-1.2zM134.9 190.9h1.2v1.2h-1.2zM138.9 190.9h1.2v1.2h-1.2zM109.9 191.9h1.2v1.2h-1.2zM111.9 191.9h1.2v1.2h-1.2zM117.9 191.9h1.2v1.2h-1.2zM139.9 191.9h2.2v1.2h-2.2zM142.9 191.9h1.2v1.2h-1.2zM109.9 192.9h1.2v1.2h-1.2zM114.9 192.9h1.2v1.2h-1.2zM136.9 192.9h1.2v1.2h-1.2zM141.9 192.9h1.2v1.2h-1.2zM107.9 193.9h1.2v1.2h-1.2zM109.9 193.9h1.2v1.2h-1.2zM112.9 193.9h1.2v1.2h-1.2zM139.9 193.9h1.2v1.2h-1.2zM109.9 194.9h1.2v1.2h-1.2zM114.9 194.9h1.2v1.2h-1.2zM107.9 195.9h1.2v1.2h-1.2zM109.9 195.9h2.2v1.2h-2.2zM139.9 195.9h1.2v1.2h-1.2zM143.9 195.9h1.2v1.2h-1.2zM108.9 196.9h1.2v1.2h-1.2zM143.9 196.9h1.2v1.2h-1.2zM146.9 196.9h1.2v1.2h-1.2zM104.9 197.9h1.2v1.2h-1.2zM109.9 197.9h1.2v1.2h-1.2zM113.9 197.9h1.2v1.2h-1.2zM105.9 198.9h1.2v1.2h-1.2zM142.9 198.9h2.2v1.2h-2.2zM146.9 198.9h1.2v1.2h-1.2zM107.9 199.9h1.2v1.2h-1.2zM110.9 199.9h1.2v1.2h-1.2zM140.9 199.9h1.2v1.2h-1.2zM144.9 199.9h1.2v1.2h-1.2zM103.9 201.9h1.2v1.2h-1.2zM106.9 201.9h2.2v1.2h-2.2zM144.9 201.9h1.2v1.2h-1.2zM147.9 201.9h1.2v1.2h-1.2zM144.9 202.9h1.2v1.2h-1.2zM104.9 203.9h1.2v1.2h-1.2zM107.9 203.9h1.2v1.2h-1.2zM142.9 203.9h2.2v1.2h-2.2zM145.9 203.9h1.2v1.2h-1.2zM146.9 204.9h1.2v1.2h-1.2zM104.9 205.9h2.2v1.2h-2.2zM144.9 205.9h1.2v1.2h-1.2zM146.9 205.9h1.2v1.2h-1.2zM106.9 206.9h1.2v1.2h-1.2zM110.9 206.9h1.2v1.2h-1.2zM137.9 206.9h1.2v1.2h-1.2zM146.9 206.9h1.2v1.2h-1.2zM107.9 207.9h1.2v1.2h-1.2zM144.9 207.9h1.2v1.2h-1.2zM104.9 208.9h1.2v1.2h-1.2zM108.9 208.9h1.2v1.2h-1.2zM144.9 208.9h1.2v1.2h-1.2zM108.9 209.9h1.2v1.2h-1.2zM111.9 209.9h1.2v1.2h-1.2zM147.9 209.9h1.2v1.2h-1.2zM105.9 210.9h1.2v1.2h-1.2zM105.9 211.9h4.2v1.2h-4.2zM139.9 211.9h1.2v1.2h-1.2zM141.9 211.9h2.2v1.2h-2.2zM139.9 212.9h1.2v1.2h-1.2zM142.9 212.9h1.2v1.2h-1.2zM141.9 213.9h1.2v1.2h-1.2zM144.9 213.9h1.2v1.2h-1.2zM105.9 214.9h2.2v1.2h-2.2zM109.9 214.9h1.2v1.2h-1.2zM141.9 214.9h1.2v1.2h-1.2zM139.9 215.9h1.2v1.2h-1.2zM141.9 215.9h2.2v1.2h-2.2zM107.9 216.9h1.2v1.2h-1.2zM109.9 216.9h1.2v1.2h-1.2zM111.9 216.9h1.2v1.2h-1.2zM113.9 216.9h1.2v1.2h-1.2zM141.9 216.9h2.2v1.2h-2.2zM108.9 217.9h2.2v1.2h-2.2zM135.9 217.9h1.2v1.2h-1.2zM139.9 217.9h1.2v1.2h-1.2zM141.9 217.9h2.2v1.2h-2.2zM144.9 217.9h1.2v1.2h-1.2zM139.9 218.9h1.2v1.2h-1.2zM142.9 218.9h2.2v1.2h-2.2zM109.9 219.9h2.2v1.2h-2.2zM113.9 219.9h1.2v1.2h-1.2zM128.9 219.9h1.2v1.2h-1.2zM142.9 219.9h1.2v1.2h-1.2zM121.9 220.9h1.2v1.2h-1.2zM123.9 220.9h1.2v1.2h-1.2zM127.9 220.9h1.2v1.2h-1.2zM114.9 221.9h1.2v1.2h-1.2zM118.9 221.9h1.2v1.2h-1.2zM124.9 221.9h1.2v1.2h-1.2zM128.9 221.9h1.2v1.2h-1.2zM134.9 221.9h1.2v1.2h-1.2zM137.9 221.9h1.2v1.2h-1.2zM120.9 222.9h1.2v1.2h-1.2zM123.9 222.9h2.2v1.2h-2.2zM126.9 222.9h2.2v1.2h-2.2zM129.9 222.9h1.2v1.2h-1.2zM139.9 222.9h1.2v1.2h-1.2zM112.9 223.9h1.2v1.2h-1.2zM119.9 223.9h3.2v1.2h-3.2zM123.9 223.9h3.2v1.2h-3.2zM131.9 223.9h1.2v1.2h-1.2zM122.9 224.9h1.2v1.2h-1.2zM124.9 224.9h1.2v1.2h-1.2zM129.9 224.9h1.2v1.2h-1.2zM137.9 224.9h1.2v1.2h-1.2zM117.9 225.9h1.2v1.2h-1.2zM124.9 225.9h1.2v1.2h-1.2zM133.9 225.9h1.2v1.2h-1.2zM126.9 226.9h1.2v1.2h-1.2z"/>
<path fill="#0080ff" d="M125.9 61.9h1.2v1.2h-1.2zM121.9 62.9h1.2v1.2h-1.2zM131.9 62.9h1.2v1.2h-1.2zM134.9 62.9h3.2v1.2h-3.2zM120.9 63.9h1.2v1.2h-1.2zM130.9 63.9h3.2v1.2h-3.2zM138.9 63.9h1.2v1.2h-1.2zM140.9 63.9h1.2v1.2h-1.2zM143.9 63.9h1.2v1.2h-1.2zM111.9 64.9h1.2v1.2h-1.2zM116.9 64.9h4.2v1.2h-4.2zM125.9 64.9h1.2v1.2h-1.2zM134.9 64.9h1.2v1.2h-1.2zM141.9 64.9h1.2v1.2h-1.2zM115.9 65.9h2.2v1.2h-2.2zM121.9 65.9h1.2v1.2h-1.2zM144.9 65.9h1.2v1.2h-1.2zM148.9 65.9h1.2v1.2h-1.2zM208.9 65.9h1.2v1.2h-1.2zM112.9 66.9h1.2v1.2h-1.2zM112.9 67.9h1.2v1.2h-1.2zM147.9 67.9h1.2v1.2h-1.2zM155.9 67.9h1.2v1.2h-1.2zM112.9 68.9h2.2v1.2h-2.2zM151.9 68.9h1.2v1.2h-1.2zM108.9 69.9h1.2v1.2h-1.2zM224.9 69.9h1.2v1.2h-1.2zM226.9 69.9h1.2v1.2h-1.2zM236.9 69.9h1.2v1.2h-1.2zM110.9 70.9h2.2v1.2h-2.2zM151.9 70.9h1.2v1.2h-1.2zM232.9 70.9h1.2v1.2h-1.2zM107.9 71.9h3.2v1.2h-3.2zM111.9 71.9h1.2v1.2h-1.2zM153.9 71.9h1.2v1.2h-1.2zM204.9 71.9h1.2v1.2h-1.2zM222.9 71.9h1.2v1.2h-1.2zM224.9 71.9h1.2v1.2h-1.2zM110.9 72.9h1.2v1.2h-1.2zM156.9 72.9h1.2v1.2h-1.2zM182.9 72.9h1.2v1.2h-1.2zM108.9 73.9h2.2v1.2h-2.2zM112.9 73.9h1.2v1.2h-1.2zM151.9 73.9h2.2v1.2h-2.2zM220.9 73.9h1.2v1.2h-1.2zM110.9 74.9h1.2v1.2h-1.2zM113.9 74.9h1.2v1.2h-1.2zM153.9 74.9h1.2v1.2h-1.2zM185.9 74.9h1.2v1.2h-1.2zM207.9 74.9h1.2v1.2h-1.2zM233.9 74.9h1.2v1.2h-1.2zM149.9 75.9h2.2v1.2h-2.2zM153.9 75.9h2.2v1.2h-2.2zM236.9 75.9h1.2v1.2h-1.2zM108.9 76.9h1.2v1.2h-1.2zM111.9 76.9h2.2v1.2h-2.2zM165.9 76.9h1.2v1.2h-1.2zM205.9 76.9h1.2v1.2h-1.2zM227.9 76.9h1.2v1.2h-1.2zM109.9 77.9h1.2v1.2h-1.2zM115.9 77.9h1.2v1.2h-1.2zM149.9 77.9h1.2v1.2h-1.2zM151.9 77.9h1.2v1.2h-1.2zM217.9 77.9h1.2v1.2h-1.2zM111.9 78.9h1.2v1.2h-1.2zM117.9 78.9h1.2v1.2h-1.2zM146.9 78.9h1.2v1.2h-1.2zM115.9 79.9h1.2v1.2h-1.2zM117.9 79.9h1.2v1.2h-1.2zM143.9 79.9h1.2v1.2h-1.2zM237.9 79.9h1.2v1.2h-1.2zM118.9 80.9h1.2v1.2h-1.2zM120.9 80.9h1.2v1.2h-1.2zM123.9 80.9h1.2v1.2h-1.2zM137.9 80.9h1.2v1.2h-1.2zM139.9 80.9h1.2v1.2h-1.2zM141.9 80.9h1.2v1.2h-1.2zM114.9 81.9h2.2v1.2h-2.2zM119.9 81.9h1.2v1.2h-1.2zM124.9 81.9h1.2v1.2h-1.2zM130.9 81.9h1.2v1.2h-1.2zM136.9 81.9h2.2v1.2h-2.2zM142.9 81.9h1.2v1.2h-1.2zM201.9 81.9h1.2v1.2h-1.2zM120.9 82.9h1.2v1.2h-1.2zM124.9 82.9h1.2v1.2h-1.2zM128.9 82.9h1.2v1.2h-1.2zM134.9 82.9h1.2v1.2h-1.2zM134.9 83.9h1.2v1.2h-1.2zM138.9 83.9h1.2v1.2h-1.2zM126.9 84.9h1.2v1.2h-1.2zM128.9 85.9h1.2v1.2h-1.2zM131.9 85.9h1.2v1.2h-1.2zM135.9 97.9h1.2v1.2h-1.2zM130.9 117.9h1.2v1.2h-1.2zM128.9 178.9h1.2v1.2h-1.2zM122.9 183.9h1.2v1.2h-1.2zM129.9 183.9h1.2v1.2h-1.2zM121.9 184.9h1.2v1.2h-1.2zM126.9 184.9h1.2v1.2h-1.2zM116.9 185.9h1.2v1.2h-1.2zM117.9 186.9h2.2v1.2h-2.2zM121.9 186.9h1.2v1.2h-1.2zM131.9 186.9h1.2v1.2h-1.2zM133.9 186.9h2.2v1.2h-2.2zM112.9 187.9h1.2v1.2h-1.2zM114.9 187.9h1.2v1.2h-1.2zM118.9 187.9h1.2v1.2h-1.2zM126.9 187.9h1.2v1.2h-1.2zM129.9 187.9h2.2v1.2h-2.2zM138.9 187.9h1.2v1.2h-1.2zM112.9 188.9h1.2v1.2h-1.2zM114.9 188.9h1.2v1.2h-1.2zM128.9 188.9h1.2v1.2h-1.2zM130.9 188.9h1.2v1.2h-1.2zM132.9 188.9h1.2v1.2h-1.2zM140.9 188.9h1.2v1.2h-1.2zM118.9 189.9h1.2v1.2h-1.2zM122.9 189.9h1.2v1.2h-1.2zM130.9 189.9h2.2v1.2h-2.2zM111.9 190.9h1.2v1.2h-1.2zM113.9 190.9h1.2v1.2h-1.2zM115.9 190.9h1.2v1.2h-1.2zM130.9 190.9h1.2v1.2h-1.2zM139.9 190.9h1.2v1.2h-1.2zM142.9 190.9h1.2v1.2h-1.2zM114.9 191.9h1.2v1.2h-1.2zM118.9 191.9h1.2v1.2h-1.2zM120.9 191.9h1.2v1.2h-1.2zM131.9 191.9h1.2v1.2h-1.2zM133.9 191.9h1.2v1.2h-1.2zM135.9 191.9h1.2v1.2h-1.2zM137.9 191.9h1.2v1.2h-1.2zM108.9 192.9h1.2v1.2h-1.2zM111.9 192.9h1.2v1.2h-1.2zM142.9 192.9h1.2v1.2h-1.2zM111.9 193.9h1.2v1.2h-1.2zM113.9 193.9h1.2v1.2h-1.2zM120.9 193.9h1.2v1.2h-1.2zM141.9 193.9h1.2v1.2h-1.2zM112.9 194.9h1.2v1.2h-1.2zM136.9 194.9h2.2v1.2h-2.2zM139.9 194.9h1.2v1.2h-1.2zM143.9 194.9h2.2v1.2h-2.2zM111.9 195.9h1.2v1.2h-1.2zM113.9 195.9h2.2v1.2h-2.2zM138.9 195.9h1.2v1.2h-1.2zM141.9 195.9h1.2v1.2h-1.2zM144.9 195.9h2.2v1.2h-2.2zM139.9 196.9h1.2v1.2h-1.2zM144.9 196.9h1.2v1.2h-1.2zM147.9 196.9h1.2v1.2h-1.2zM105.9 197.9h1.2v1.2h-1.2zM108.9 197.9h1.2v1.2h-1.2zM110.9 197.9h2.2v1.2h-2.2zM138.9 197.9h1.2v1.2h-1.2zM140.9 197.9h1.2v1.2h-1.2zM143.9 197.9h2.2v1.2h-2.2zM146.9 197.9h1.2v1.2h-1.2zM109.9 198.9h1.2v1.2h-1.2zM140.9 198.9h2.2v1.2h-2.2zM144.9 198.9h2.2v1.2h-2.2zM108.9 199.9h1.2v1.2h-1.2zM141.9 199.9h1.2v1.2h-1.2zM108.9 200.9h2.2v1.2h-2.2zM140.9 200.9h2.2v1.2h-2.2zM145.9 200.9h1.2v1.2h-1.2zM112.9 201.9h1.2v1.2h-1.2zM139.9 201.9h1.2v1.2h-1.2zM141.9 201.9h1.2v1.2h-1.2zM143.9 201.9h1.2v1.2h-1.2zM109.9 202.9h2.2v1.2h-2.2zM143.9 202.9h1.2v1.2h-1.2zM145.9 202.9h1.2v1.2h-1.2zM110.9 203.9h1.2v1.2h-1.2zM141.9 203.9h1.2v1.2h-1.2zM105.9 204.9h1.2v1.2h-1.2zM107.9 204.9h1.2v1.2h-1.2zM141.9 204.9h3.2v1.2h-3.2zM145.9 204.9h1.2v1.2h-1.2zM140.9 205.9h1.2v1.2h-1.2zM142.9 205.9h2.2v1.2h-2.2zM107.9 206.9h1.2v1.2h-1.2zM103.9 207.9h1.2v1.2h-1.2zM138.9 207.9h1.2v1.2h-1.2zM140.9 207.9h1.2v1.2h-1.2zM142.9 207.9h1.2v1.2h-1.2zM110.9 208.9h1.2v1.2h-1.2zM147.9 208.9h1.2v1.2h-1.2zM106.9 209.9h2.2v1.2h-2.2zM109.9 209.9h1.2v1.2h-1.2zM138.9 209.9h1.2v1.2h-1.2zM142.9 209.9h1.2v1.2h-1.2zM145.9 209.9h1.2v1.2h-1.2zM107.9 210.9h2.2v1.2h-2.2zM111.9 210.9h1.2v1.2h-1.2zM141.9 210.9h1.2v1.2h-1.2zM117.9 211.9h1.2v1.2h-1.2zM107.9 212.9h1.2v1.2h-1.2zM109.9 212.9h1.2v1.2h-1.2zM111.9 212.9h1.2v1.2h-1.2zM140.9 212.9h2.2v1.2h-2.2zM144.9 212.9h1.2v1.2h-1.2zM106.9 213.9h2.2v1.2h-2.2zM112.9 213.9h1.2v1.2h-1.2zM114.9 213.9h1.2v1.2h-1.2zM138.9 213.9h1.2v1.2h-1.2zM111.9 214.9h1.2v1.2h-1.2zM137.9 214.9h1.2v1.2h-1.2zM139.9 214.9h2.2v1.2h-2.2zM142.9 214.9h1.2v1.2h-1.2zM113.9 215.9h2.2v1.2h-2.2zM137.9 215.9h1.2v1.2h-1.2zM143.9 215.9h1.2v1.2h-1.2zM106.9 216.9h1.2v1.2h-1.2zM112.9 216.9h1.2v1.2h-1.2zM115.9 216.9h1.2v1.2h-1.2zM122.9 216.9h1.2v1.2h-1.2zM133.9 216.9h2.2v1.2h-2.2zM136.9 216.9h1.2v1.2h-1.2zM143.9 216.9h1.2v1.2h-1.2zM113.9 217.9h2.2v1.2h-2.2zM113.9 218.9h2.2v1.2h-2.2zM116.9 218.9h1.2v1.2h-1.2zM130.9 218.9h1.2v1.2h-1.2zM111.9 219.9h1.2v1.2h-1.2zM115.9 219.9h1.2v1.2h-1.2zM121.9 219.9h1.2v1.2h-1.2zM123.9 219.9h1.2v1.2h-1.2zM129.9 219.9h1.2v1.2h-1.2zM135.9 219.9h1.2v1.2h-1.2zM137.9 219.9h1.2v1.2h-1.2zM114.9 220.9h2.2v1.2h-2.2zM117.9 220.9h3.2v1.2h-3.2zM126.9 220.9h1.2v1.2h-1.2zM128.9 220.9h1.2v1.2h-1.2zM138.9 220.9h1.2v1.2h-1.2zM113.9 221.9h1.2v1.2h-1.2zM115.9 221.9h1.2v1.2h-1.2zM119.9 221.9h1.2v1.2h-1.2zM123.9 221.9h1.2v1.2h-1.2zM126.9 221.9h1.2v1.2h-1.2zM129.9 221.9h1.2v1.2h-1.2zM132.9 221.9h2.2v1.2h-2.2zM135.9 221.9h2.2v1.2h-2.2zM115.9 222.9h1.2v1.2h-1.2zM117.9 222.9h3.2v1.2h-3.2zM121.9 222.9h1.2v1.2h-1.2zM126.9 223.9h2.2v1.2h-2.2zM132.9 223.9h2.2v1.2h-2.2zM121.9 224.9h1.2v1.2h-1.2zM118.9 225.9h1.2v1.2h-1.2zM120.9 225.9h1.2v1.2h-1.2zM123.9 225.9h1.2v1.2h-1.2zM132.9 226.9h1.2v1.2h-1.2z"/>
<path fill="#00bfff" d="M130.9 61.9h2.2v1.2h-2.2zM133.9 61.9h1.2v1.2h-1.2zM135.9 61.9h2.2v1.2h-2.2zM129.9 62.9h1.2v1.2h-1.2zM116.9 63.9h1.2v1.2h-1.2zM118.9 63.9h1.2v1.2h-1.2zM125.9 63.9h4.2v1.2h-4.2zM133.9 63.9h3.2v1.2h-3.2zM139.9 63.9h1.2v1.2h-1.2zM120.9 64.9h2.2v1.2h-2.2zM126.9 64.9h1.2v1.2h-1.2zM132.9 64.9h1.2v1.2h-1.2zM137.9 64.9h1.2v1.2h-1.2zM139.9 65.9h2.2v1.2h-2.2zM142.9 65.9h1.2v1.2h-1.2zM146.9 65.9h1.2v1.2h-1.2zM113.9 66.9h1.2v1.2h-1.2zM115.9 66.9h1.2v1.2h-1.2zM120.9 66.9h1.2v1.2h-1.2zM149.9 66.9h1.2v1.2h-1.2zM148.9 67.9h1.2v1.2h-1.2zM114.9 68.9h1.2v1.2h-1.2zM148.9 68.9h2.2v1.2h-2.2zM152.9 68.9h1.2v1.2h-1.2zM149.9 69.9h2.2v1.2h-2.2zM152.9 69.9h1.2v1.2h-1.2zM112.9 70.9h1.2v1.2h-1.2zM148.9 70.9h2.2v1.2h-2.2zM153.9 70.9h1.2v1.2h-1.2zM109.9 72.9h1.2v1.2h-1.2zM111.9 72.9h1.2v1.2h-1.2zM148.9 72.9h1.2v1.2h-1.2zM152.9 72.9h1.2v1.2h-1.2zM111.9 74.9h1.2v1.2h-1.2zM111.9 75.9h1.2v1.2h-1.2zM147.9 75.9h2.2v1.2h-2.2zM113.9 76.9h1.2v1.2h-1.2zM145.9 76.9h1.2v1.2h-1.2zM150.9 76.9h2.2v1.2h-2.2zM111.9 77.9h1.2v1.2h-1.2zM114.9 77.9h1.2v1.2h-1.2zM145.9 77.9h1.2v1.2h-1.2zM116.9 78.9h1.2v1.2h-1.2zM141.9 78.9h1.2v1.2h-1.2zM143.9 78.9h3.2v1.2h-3.2zM142.9 79.9h1.2v1.2h-1.2zM144.9 79.9h1.2v1.2h-1.2zM121.9 80.9h1.2v1.2h-1.2zM127.9 80.9h1.2v1.2h-1.2zM129.9 80.9h1.2v1.2h-1.2zM142.9 80.9h1.2v1.2h-1.2zM121.9 81.9h1.2v1.2h-1.2zM126.9 81.9h1.2v1.2h-1.2zM128.9 81.9h2.2v1.2h-2.2zM132.9 81.9h1.2v1.2h-1.2zM126.9 82.9h1.2v1.2h-1.2zM123.9 83.9h1.2v1.2h-1.2zM126.9 83.9h1.2v1.2h-1.2zM128.9 83.9h1.2v1.2h-1.2zM135.9 83.9h1.2v1.2h-1.2zM119.9 186.9h1.2v1.2h-1.2zM123.9 186.9h1.2v1.2h-1.2zM125.9 186.9h1.2v1.2h-1.2zM122.9 187.9h1.2v1.2h-1.2zM124.9 187.9h1.2v1.2h-1.2zM111.9 188.9h1.2v1.2h-1.2zM119.9 188.9h1.2v1.2h-1.2zM124.9 188.9h1.2v1.2h-1.2zM134.9 188.9h1.2v1.2h-1.2zM123.9 189.9h1.2v1.2h-1.2zM125.9 189.9h1.2v1.2h-1.2zM128.9 189.9h2.2v1.2h-2.2zM139.9 189.9h1.2v1.2h-1.2zM116.9 190.9h2.2v1.2h-2.2zM122.9 190.9h1.2v1.2h-1.2zM127.9 190.9h1.2v1.2h-1.2zM131.9 190.9h1.2v1.2h-1.2zM136.9 190.9h1.2v1.2h-1.2zM116.9 191.9h1.2v1.2h-1.2zM119.9 191.9h1.2v1.2h-1.2zM124.9 191.9h1.2v1.2h-1.2zM126.9 191.9h1.2v1.2h-1.2zM128.9 191.9h1.2v1.2h-1.2zM130.9 191.9h1.2v1.2h-1.2zM115.9 192.9h2.2v1.2h-2.2zM118.9 192.9h4.2v1.2h-4.2zM131.9 192.9h3.2v1.2h-3.2zM135.9 192.9h1.2v1.2h-1.2zM137.9 192.9h1.2v1.2h-1.2zM110.9 193.9h1.2v1.2h-1.2zM114.9 193.9h3.2v1.2h-3.2zM128.9 193.9h1.2v1.2h-1.2zM133.9 193.9h1.2v1.2h-1.2zM116.9 194.9h1.2v1.2h-1.2zM118.9 194.9h1.2v1.2h-1.2zM138.9 194.9h1.2v1.2h-1.2zM135.9 195.9h1.2v1.2h-1.2zM110.9 196.9h4.2v1.2h-4.2zM134.9 196.9h1.2v1.2h-1.2zM137.9 196.9h2.2v1.2h-2.2zM141.9 196.9h1.2v1.2h-1.2zM141.9 197.9h1.2v1.2h-1.2zM110.9 198.9h1.2v1.2h-1.2zM113.9 198.9h1.2v1.2h-1.2zM138.9 198.9h1.2v1.2h-1.2zM111.9 199.9h1.2v1.2h-1.2zM113.9 199.9h1.2v1.2h-1.2zM110.9 200.9h1.2v1.2h-1.2zM108.9 201.9h2.2v1.2h-2.2zM111.9 202.9h1.2v1.2h-1.2zM142.9 202.9h1.2v1.2h-1.2zM111.9 203.9h1.2v1.2h-1.2zM146.9 203.9h1.2v1.2h-1.2zM113.9 204.9h1.2v1.2h-1.2zM109.9 205.9h1.2v1.2h-1.2zM111.9 205.9h1.2v1.2h-1.2zM113.9 205.9h1.2v1.2h-1.2zM105.9 206.9h1.2v1.2h-1.2zM111.9 206.9h1.2v1.2h-1.2zM145.9 206.9h1.2v1.2h-1.2zM105.9 207.9h2.2v1.2h-2.2zM110.9 207.9h2.2v1.2h-2.2zM111.9 208.9h1.2v1.2h-1.2zM139.9 208.9h1.2v1.2h-1.2zM142.9 208.9h2.2v1.2h-2.2zM140.9 209.9h1.2v1.2h-1.2zM110.9 210.9h1.2v1.2h-1.2zM112.9 210.9h2.2v1.2h-2.2zM140.9 210.9h1.2v1.2h-1.2zM142.9 210.9h3.2v1.2h-3.2zM112.9 211.9h1.2v1.2h-1.2zM140.9 211.9h1.2v1.2h-1.2zM112.9 212.9h1.2v1.2h-1.2zM110.9 213.9h2.2v1.2h-2.2zM134.9 213.9h1.2v1.2h-1.2zM113.9 214.9h2.2v1.2h-2.2zM116.9 214.9h1.2v1.2h-1.2zM134.9 214.9h1.2v1.2h-1.2zM112.9 215.9h1.2v1.2h-1.2zM115.9 215.9h1.2v1.2h-1.2zM128.9 215.9h1.2v1.2h-1.2zM134.9 215.9h1.2v1.2h-1.2zM138.9 215.9h1.2v1.2h-1.2zM140.9 215.9h1.2v1.2h-1.2zM114.9 216.9h1.2v1.2h-1.2zM130.9 216.9h1.2v1.2h-1.2zM135.9 216.9h1.2v1.2h-1.2zM137.9 216.9h1.2v1.2h-1.2zM115.9 217.9h1.2v1.2h-1.2zM117.9 217.9h1.2v1.2h-1.2zM138.9 217.9h1.2v1.2h-1.2zM115.9 218.9h1.2v1.2h-1.2zM118.9 218.9h2.2v1.2h-2.2zM133.9 218.9h1.2v1.2h-1.2zM136.9 218.9h2.2v1.2h-2.2zM116.9 219.9h3.2v1.2h-3.2zM131.9 219.9h4.2v1.2h-4.2zM141.9 219.9h1.2v1.2h-1.2zM111.9 220.9h1.2v1.2h-1.2zM122.9 220.9h1.2v1.2h-1.2zM125.9 220.9h1.2v1.2h-1.2zM132.9 220.9h2.2v1.2h-2.2zM125.9 221.9h1.2v1.2h-1.2zM127.9 221.9h1.2v1.2h-1.2zM130.9 221.9h2.2v1.2h-2.2zM131.9 222.9h1.2v1.2h-1.2z"/>
<path fill="#00ffff" d="M123.9 61.9h1.2v1.2h-1.2zM123.9 62.9h1.2v1.2h-1.2zM119.9 63.9h1.2v1.2h-1.2zM124.9 63.9h1.2v1.2h-1.2zM129.9 63.9h1.2v1.2h-1.2zM123.9 64.9h1.2v1.2h-1.2zM127.9 64.9h1.2v1.2h-1.2zM135.9 64.9h1.2v1.2h-1.2zM138.9 64.9h1.2v1.2h-1.2zM120.9 65.9h1.2v1.2h-1.2zM135.9 65.9h1.2v1.2h-1.2zM143.9 65.9h1.2v1.2h-1.2zM150.9 65.9h1.2v1.2h-1.2zM116.9 66.9h1.2v1.2h-1.2zM118.9 66.9h1.2v1.2h-1.2zM145.9 66.9h1.2v1.2h-1.2zM111.9 67.9h1.2v1.2h-1.2zM116.9 67.9h1.2v1.2h-1.2zM156.9 68.9h1.2v1.2h-1.2zM158.9 68.9h1.2v1.2h-1.2zM111.9 69.9h2.2v1.2h-2.2zM114.9 69.9h1.2v1.2h-1.2zM148.9 69.9h1.2v1.2h-1.2zM150.9 70.9h1.2v1.2h-1.2zM222.9 70.9h1.2v1.2h-1.2zM150.9 71.9h1.2v1.2h-1.2zM149.9 72.9h2.2v1.2h-2.2zM111.9 73.9h1.2v1.2h-1.2zM201.9 73.9h1.2v1.2h-1.2zM147.9 74.9h2.2v1.2h-2.2zM109.9 75.9h1.2v1.2h-1.2zM114.9 75.9h1.2v1.2h-1.2zM146.9 75.9h1.2v1.2h-1.2zM114.9 76.9h1.2v1.2h-1.2zM209.9 76.9h1.2v1.2h-1.2zM215.9 76.9h1.2v1.2h-1.2zM113.9 77.9h1.2v1.2h-1.2zM207.9 77.9h1.2v1.2h-1.2zM119.9 78.9h1.2v1.2h-1.2zM187.9 78.9h1.2v1.2h-1.2zM212.9 78.9h1.2v1.2h-1.2zM118.9 79.9h1.2v1.2h-1.2zM120.9 79.9h2.2v1.2h-2.2zM140.9 79.9h1.2v1.2h-1.2zM209.9 79.9h1.2v1.2h-1.2zM212.9 79.9h1.2v1.2h-1.2zM119.9 80.9h1.2v1.2h-1.2zM122.9 80.9h1.2v1.2h-1.2zM128.9 80.9h1.2v1.2h-1.2zM133.9 80.9h1.2v1.2h-1.2zM135.9 80.9h1.2v1.2h-1.2zM127.9 81.9h1.2v1.2h-1.2zM133.9 81.9h1.2v1.2h-1.2zM139.9 81.9h1.2v1.2h-1.2zM210.9 82.9h1.2v1.2h-1.2zM207.9 83.9h1.2v1.2h-1.2zM134.9 84.9h1.2v1.2h-1.2zM214.9 86.9h1.2v1.2h-1.2zM209.9 92.9h1.2v1.2h-1.2zM133.9 125.9h1.2v1.2h-1.2zM135.9 161.9h1.2v1.2h-1.2zM132.9 187.9h1.2v1.2h-1.2zM122.9 188.9h2.2v1.2h-2.2zM135.9 188.9h1.2v1.2h-1.2zM119.9 189.9h3.2v1.2h-3.2zM124.9 189.9h1.2v1.2h-1.2zM126.9 189.9h2.2v1.2h-2.2zM132.9 189.9h1.2v1.2h-1.2zM118.9 190.9h1.2v1.2h-1.2zM124.9 190.9h3.2v1.2h-3.2zM129.9 190.9h1.2v1.2h-1.2zM133.9 190.9h1.2v1.2h-1.2zM135.9 190.9h1.2v1.2h-1.2zM121.9 191.9h1.2v1.2h-1.2zM125.9 191.9h1.2v1.2h-1.2zM129.9 191.9h1.2v1.2h-1.2zM132.9 191.9h1.2v1.2h-1.2zM113.9 192.9h1.2v1.2h-1.2zM117.9 192.9h1.2v1.2h-1.2zM127.9 192.9h1.2v1.2h-1.2zM129.9 192.9h1.2v1.2h-1.2zM134.9 192.9h1.2v1.2h-1.2zM119.9 193.9h1.2v1.2h-1.2zM134.9 193.9h1.2v1.2h-1.2zM136.9 193.9h2.2v1.2h-2.2zM113.9 194.9h1.2v1.2h-1.2zM117.9 194.9h1.2v1.2h-1.2zM120.9 194.9h1.2v1.2h-1.2zM134.9 194.9h1.2v1.2h-1.2zM115.9 195.9h1.2v1.2h-1.2zM118.9 195.9h1.2v1.2h-1.2zM127.9 195.9h1.2v1.2h-1.2zM137.9 195.9h1.2v1.2h-1.2zM115.9 196.9h1.2v1.2h-1.2zM117.9 196.9h1.2v1.2h-1.2zM119.9 196.9h1.2v1.2h-1.2zM121.9 196.9h1.2v1.2h-1.2zM131.9 196.9h1.2v1.2h-1.2zM115.9 197.9h2.2v1.2h-2.2zM118.9 197.9h1.2v1.2h-1.2zM139.9 197.9h1.2v1.2h-1.2zM114.9 198.9h1.2v1.2h-1.2zM119.9 198.9h1.2v1.2h-1.2zM106.9 199.9h1.2v1.2h-1.2zM109.9 199.9h1.2v1.2h-1.2zM138.9 199.9h1.2v1.2h-1.2zM147.9 199.9h1.2v1.2h-1.2zM107.9 200.9h1.2v1.2h-1.2zM138.9 200.9h1.2v1.2h-1.2zM110.9 201.9h1.2v1.2h-1.2zM135.9 201.9h2.2v1.2h-2.2zM138.9 201.9h1.2v1.2h-1.2zM140.9 201.9h1.2v1.2h-1.2zM142.9 201.9h1.2v1.2h-1.2zM108.9 202.9h1.2v1.2h-1.2zM137.9 202.9h1.2v1.2h-1.2zM139.9 202.9h3.2v1.2h-3.2zM108.9 203.9h2.2v1.2h-2.2zM140.9 203.9h1.2v1.2h-1.2zM109.9 204.9h2.2v1.2h-2.2zM112.9 204.9h1.2v1.2h-1.2zM144.9 204.9h1.2v1.2h-1.2zM107.9 205.9h1.2v1.2h-1.2zM110.9 205.9h1.2v1.2h-1.2zM109.9 206.9h1.2v1.2h-1.2zM141.9 206.9h2.2v1.2h-2.2zM109.9 207.9h1.2v1.2h-1.2zM112.9 207.9h1.2v1.2h-1.2zM141.9 207.9h1.2v1.2h-1.2zM138.9 208.9h1.2v1.2h-1.2zM141.9 208.9h1.2v1.2h-1.2zM112.9 209.9h1.2v1.2h-1.2zM139.9 209.9h1.2v1.2h-1.2zM141.9 209.9h1.2v1.2h-1.2zM136.9 210.9h1.2v1.2h-1.2zM111.9 211.9h1.2v1.2h-1.2zM110.9 212.9h1.2v1.2h-1.2zM113.9 212.9h2.2v1.2h-2.2zM135.9 212.9h1.2v1.2h-1.2zM137.9 212.9h2.2v1.2h-2.2zM115.9 213.9h1.2v1.2h-1.2zM133.9 213.9h1.2v1.2h-1.2zM136.9 213.9h1.2v1.2h-1.2zM139.9 213.9h1.2v1.2h-1.2zM110.9 214.9h1.2v1.2h-1.2zM112.9 214.9h1.2v1.2h-1.2zM118.9 214.9h1.2v1.2h-1.2zM126.9 214.9h1.2v1.2h-1.2zM138.9 214.9h1.2v1.2h-1.2zM118.9 215.9h1.2v1.2h-1.2zM131.9 215.9h1.2v1.2h-1.2zM124.9 216.9h1.2v1.2h-1.2zM128.9 216.9h1.2v1.2h-1.2zM116.9 217.9h1.2v1.2h-1.2zM120.9 217.9h2.2v1.2h-2.2zM129.9 217.9h1.2v1.2h-1.2zM131.9 217.9h1.2v1.2h-1.2zM134.9 217.9h1.2v1.2h-1.2zM136.9 217.9h2.2v1.2h-2.2zM120.9 218.9h2.2v1.2h-2.2zM126.9 218.9h1.2v1.2h-1.2zM120.9 219.9h1.2v1.2h-1.2zM124.9 219.9h1.2v1.2h-1.2zM126.9 219.9h2.2v1.2h-2.2zM130.9 219.9h1.2v1.2h-1.2zM136.9 219.9h1.2v1.2h-1.2zM120.9 220.9h1.2v1.2h-1.2zM130.9 220.9h2.2v1.2h-2.2zM122.9 221.9h1.2v1.2h-1.2zM122.9 222.9h1.2v1.2h-1.2zM128.9 222.9h1.2v1.2h-1.2z"/>
<path fill="#00ffbf" d="M122.9 64.9h1.2v1.2h-1.2zM124.9 64.9h1.2v1.2h-1.2zM128.9 64.9h1.2v1.2h-1.2zM133.9 64.9h1.2v1.2h-1.2zM117.9 65.9h1.2v1.2h-1.2zM119.9 65.9h1.2v1.2h-1.2zM122.9 65.9h1.2v1.2h-1.2zM129.9 65.9h1.2v1.2h-1.2zM141.9 65.9h1.2v1.2h-1.2zM114.9 66.9h1.2v1.2h-1.2zM117.9 66.9h1.2v1.2h-1.2zM122.9 66.9h1.2v1.2h-1.2zM141.9 66.9h2.2v1.2h-2.2zM144.9 66.9h1.2v1.2h-1.2zM117.9 67.9h1.2v1.2h-1.2zM121.9 67.9h1.2v1.2h-1.2zM143.9 67.9h1.2v1.2h-1.2zM145.9 67.9h2.2v1.2h-2.2zM146.9 68.9h2.2v1.2h-2.2zM113.9 69.9h1.2v1.2h-1.2zM147.9 69.9h1.2v1.2h-1.2zM113.9 70.9h1.2v1.2h-1.2zM147.9 70.9h1.2v1.2h-1.2zM112.9 71.9h2.2v1.2h-2.2zM149.9 71.9h1.2v1.2h-1.2zM112.9 72.9h2.2v1.2h-2.2zM110.9 73.9h1.2v1.2h-1.2zM112.9 74.9h1.2v1.2h-1.2zM149.9 74.9h2.2v1.2h-2.2zM113.9 75.9h1.2v1.2h-1.2zM115.9 76.9h1.2v1.2h-1.2zM147.9 76.9h2.2v1.2h-2.2zM143.9 77.9h1.2v1.2h-1.2zM146.9 77.9h1.2v1.2h-1.2zM114.9 78.9h1.2v1.2h-1.2zM118.9 78.9h1.2v1.2h-1.2zM120.9 78.9h1.2v1.2h-1.2zM142.9 78.9h1.2v1.2h-1.2zM119.9 79.9h1.2v1.2h-1.2zM122.9 79.9h1.2v1.2h-1.2zM138.9 79.9h1.2v1.2h-1.2zM141.9 79.9h1.2v1.2h-1.2zM124.9 80.9h3.2v1.2h-3.2zM130.9 80.9h2.2v1.2h-2.2zM138.9 80.9h1.2v1.2h-1.2zM122.9 81.9h1.2v1.2h-1.2zM127.9 185.9h1.2v1.2h-1.2zM126.9 188.9h1.2v1.2h-1.2zM121.9 190.9h1.2v1.2h-1.2zM124.9 192.9h3.2v1.2h-3.2zM130.9 192.9h1.2v1.2h-1.2zM139.9 192.9h1.2v1.2h-1.2zM117.9 193.9h2.2v1.2h-2.2zM129.9 193.9h2.2v1.2h-2.2zM135.9 193.9h1.2v1.2h-1.2zM122.9 194.9h1.2v1.2h-1.2zM129.9 194.9h1.2v1.2h-1.2zM133.9 194.9h1.2v1.2h-1.2zM116.9 195.9h1.2v1.2h-1.2zM124.9 195.9h1.2v1.2h-1.2zM131.9 195.9h2.2v1.2h-2.2zM134.9 195.9h1.2v1.2h-1.2zM136.9 195.9h1.2v1.2h-1.2zM114.9 196.9h1.2v1.2h-1.2zM118.9 196.9h1.2v1.2h-1.2zM132.9 196.9h1.2v1.2h-1.2zM112.9 197.9h1.2v1.2h-1.2zM114.9 197.9h1.2v1.2h-1.2zM126.9 197.9h1.2v1.2h-1.2zM129.9 197.9h1.2v1.2h-1.2zM135.9 197.9h2.2v1.2h-2.2zM111.9 198.9h1.2v1.2h-1.2zM118.9 198.9h1.2v1.2h-1.2zM134.9 198.9h2.2v1.2h-2.2zM137.9 198.9h1.2v1.2h-1.2zM139.9 198.9h1.2v1.2h-1.2zM137.9 199.9h1.2v1.2h-1.2zM111.9 200.9h2.2v1.2h-2.2zM135.9 200.9h3.2v1.2h-3.2zM139.9 200.9h1.2v1.2h-1.2zM114.9 201.9h1.2v1.2h-1.2zM137.9 201.9h1.2v1.2h-1.2zM112.9 202.9h3.2v1.2h-3.2zM135.9 202.9h1.2v1.2h-1.2zM138.9 202.9h1.2v1.2h-1.2zM114.9 203.9h1.2v1.2h-1.2zM138.9 203.9h2.2v1.2h-2.2zM111.9 204.9h1.2v1.2h-1.2zM114.9 204.9h1.2v1.2h-1.2zM117.9 204.9h1.2v1.2h-1.2zM138.9 204.9h1.2v1.2h-1.2zM140.9 204.9h1.2v1.2h-1.2zM139.9 205.9h1.2v1.2h-1.2zM141.9 205.9h1.2v1.2h-1.2zM112.9 206.9h2.2v1.2h-2.2zM115.9 206.9h1.2v1.2h-1.2zM136.9 207.9h1.2v1.2h-1.2zM114.9 208.9h1.2v1.2h-1.2zM113.9 209.9h1.2v1.2h-1.2zM115.9 209.9h1.2v1.2h-1.2zM137.9 209.9h1.2v1.2h-1.2zM114.9 210.9h4.2v1.2h-4.2zM137.9 210.9h3.2v1.2h-3.2zM110.9 211.9h1.2v1.2h-1.2zM114.9 211.9h1.2v1.2h-1.2zM135.9 211.9h1.2v1.2h-1.2zM137.9 211.9h2.2v1.2h-2.2zM118.9 212.9h1.2v1.2h-1.2zM134.9 212.9h1.2v1.2h-1.2zM113.9 213.9h1.2v1.2h-1.2zM119.9 214.9h2.2v1.2h-2.2zM135.9 214.9h1.2v1.2h-1.2zM116.9 215.9h1.2v1.2h-1.2zM130.9 215.9h1.2v1.2h-1.2zM133.9 215.9h1.2v1.2h-1.2zM135.9 215.9h1.2v1.2h-1.2zM116.9 216.9h1.2v1.2h-1.2zM118.9 216.9h1.2v1.2h-1.2zM120.9 216.9h1.2v1.2h-1.2zM123.9 216.9h1.2v1.2h-1.2zM131.9 216.9h1.2v1.2h-1.2zM118.9 217.9h1.2v1.2h-1.2zM122.9 217.9h2.2v1.2h-2.2zM126.9 217.9h1.2v1.2h-1.2zM133.9 217.9h1.2v1.2h-1.2zM117.9 218.9h1.2v1.2h-1.2zM123.9 218.9h1.2v1.2h-1.2zM128.9 218.9h1.2v1.2h-1.2zM131.9 218.9h1.2v1.2h-1.2zM134.9 218.9h1.2v1.2h-1.2zM124.9 220.9h1.2v1.2h-1.2zM129.9 220.9h1.2v1.2h-1.2z"/>
<path fill="#00ff80" d="M131.9 64.9h1.2v1.2h-1.2zM118.9 65.9h1.2v1.2h-1.2zM123.9 65.9h1.2v1.2h-1.2zM132.9 65.9h1.2v1.2h-1.2zM137.9 65.9h1.2v1.2h-1.2zM119.9 66.9h1.2v1.2h-1.2zM143.9 66.9h1.2v1.2h-1.2zM115.9 67.9h1.2v1.2h-1.2zM118.9 67.9h1.2v1.2h-1.2zM144.9 67.9h1.2v1.2h-1.2zM143.9 68.9h1.2v1.2h-1.2zM146.9 70.9h1.2v1.2h-1.2zM147.9 71.9h1.2v1.2h-1.2zM114.9 72.9h1.2v1.2h-1.2zM146.9 72.9h1.2v1.2h-1.2zM113.9 73.9h1.2v1.2h-1.2zM146.9 73.9h3.2v1.2h-3.2zM114.9 74.9h1.2v1.2h-1.2zM144.9 74.9h1.2v1.2h-1.2zM144.9 75.9h2.2v1.2h-2.2zM116.9 76.9h1.2v1.2h-1.2zM144.9 76.9h1.2v1.2h-1.2zM117.9 77.9h2.2v1.2h-2.2zM120.9 77.9h2.2v1.2h-2.2zM140.9 77.9h1.2v1.2h-1.2zM144.9 77.9h1.2v1.2h-1.2zM123.9 78.9h1.2v1.2h-1.2zM125.9 79.9h1.2v1.2h-1.2zM134.9 79.9h1.2v1.2h-1.2zM136.9 79.9h1.2v1.2h-1.2zM139.9 79.9h1.2v1.2h-1.2zM132.9 80.9h1.2v1.2h-1.2zM134.9 80.9h1.2v1.2h-1.2zM136.9 80.9h1.2v1.2h-1.2zM134.9 189.9h1.2v1.2h-1.2zM122.9 191.9h2.2v1.2h-2.2zM123.9 192.9h1.2v1.2h-1.2zM128.9 192.9h1.2v1.2h-1.2zM123.9 193.9h1.2v1.2h-1.2zM126.9 193.9h2.2v1.2h-2.2zM132.9 193.9h1.2v1.2h-1.2zM119.9 194.9h1.2v1.2h-1.2zM123.9 194.9h1.2v1.2h-1.2zM128.9 194.9h1.2v1.2h-1.2zM130.9 194.9h2.2v1.2h-2.2zM135.9 194.9h1.2v1.2h-1.2zM117.9 195.9h1.2v1.2h-1.2zM122.9 195.9h1.2v1.2h-1.2zM129.9 195.9h1.2v1.2h-1.2zM127.9 196.9h1.2v1.2h-1.2zM129.9 196.9h1.2v1.2h-1.2zM136.9 196.9h1.2v1.2h-1.2zM112.9 198.9h1.2v1.2h-1.2zM115.9 198.9h1.2v1.2h-1.2zM133.9 198.9h1.2v1.2h-1.2zM136.9 198.9h1.2v1.2h-1.2zM114.9 199.9h1.2v1.2h-1.2zM117.9 199.9h1.2v1.2h-1.2zM133.9 199.9h1.2v1.2h-1.2zM135.9 199.9h1.2v1.2h-1.2zM139.9 199.9h1.2v1.2h-1.2zM113.9 200.9h6.2v1.2h-6.2zM113.9 201.9h1.2v1.2h-1.2zM115.9 201.9h1.2v1.2h-1.2zM134.9 201.9h1.2v1.2h-1.2zM112.9 203.9h1.2v1.2h-1.2zM137.9 203.9h1.2v1.2h-1.2zM137.9 204.9h1.2v1.2h-1.2zM139.9 204.9h1.2v1.2h-1.2zM112.9 205.9h1.2v1.2h-1.2zM114.9 205.9h1.2v1.2h-1.2zM135.9 205.9h4.2v1.2h-4.2zM139.9 206.9h2.2v1.2h-2.2zM114.9 207.9h2.2v1.2h-2.2zM137.9 207.9h1.2v1.2h-1.2zM112.9 208.9h1.2v1.2h-1.2zM132.9 208.9h1.2v1.2h-1.2zM135.9 208.9h2.2v1.2h-2.2zM118.9 210.9h1.2v1.2h-1.2zM121.9 210.9h1.2v1.2h-1.2zM135.9 210.9h1.2v1.2h-1.2zM116.9 211.9h1.2v1.2h-1.2zM118.9 211.9h1.2v1.2h-1.2zM134.9 211.9h1.2v1.2h-1.2zM136.9 211.9h1.2v1.2h-1.2zM115.9 212.9h2.2v1.2h-2.2zM120.9 212.9h1.2v1.2h-1.2zM136.9 212.9h1.2v1.2h-1.2zM122.9 213.9h1.2v1.2h-1.2zM124.9 213.9h1.2v1.2h-1.2zM135.9 213.9h1.2v1.2h-1.2zM137.9 213.9h1.2v1.2h-1.2zM115.9 214.9h1.2v1.2h-1.2zM117.9 214.9h1.2v1.2h-1.2zM128.9 214.9h1.2v1.2h-1.2zM132.9 214.9h2.2v1.2h-2.2zM117.9 215.9h1.2v1.2h-1.2zM121.9 215.9h1.2v1.2h-1.2zM126.9 215.9h2.2v1.2h-2.2zM132.9 215.9h1.2v1.2h-1.2zM136.9 215.9h1.2v1.2h-1.2zM117.9 216.9h1.2v1.2h-1.2zM132.9 216.9h1.2v1.2h-1.2zM119.9 217.9h1.2v1.2h-1.2zM125.9 217.9h1.2v1.2h-1.2zM127.9 217.9h1.2v1.2h-1.2zM132.9 217.9h1.2v1.2h-1.2zM122.9 218.9h1.2v1.2h-1.2zM125.9 218.9h1.2v1.2h-1.2zM127.9 218.9h1.2v1.2h-1.2zM129.9 218.9h1.2v1.2h-1.2zM122.9 219.9h1.2v1.2h-1.2zM125.9 219.9h1.2v1.2h-1.2z"/>
<path fill="#00ff40" d="M130.9 64.9h1.2v1.2h-1.2zM136.9 64.9h1.2v1.2h-1.2zM125.9 65.9h3.2v1.2h-3.2zM138.9 65.9h1.2v1.2h-1.2zM140.9 66.9h1.2v1.2h-1.2zM119.9 67.9h1.2v1.2h-1.2zM140.9 67.9h2.2v1.2h-2.2zM115.9 68.9h3.2v1.2h-3.2zM144.9 68.9h1.2v1.2h-1.2zM115.9 69.9h2.2v1.2h-2.2zM146.9 69.9h1.2v1.2h-1.2zM114.9 70.9h2.2v1.2h-2.2zM145.9 70.9h1.2v1.2h-1.2zM114.9 71.9h2.2v1.2h-2.2zM146.9 71.9h1.2v1.2h-1.2zM148.9 71.9h1.2v1.2h-1.2zM147.9 72.9h1.2v1.2h-1.2zM114.9 73.9h2.2v1.2h-2.2zM144.9 73.9h1.2v1.2h-1.2zM145.9 74.9h1.2v1.2h-1.2zM117.9 75.9h2.2v1.2h-2.2zM117.9 76.9h2.2v1.2h-2.2zM120.9 76.9h1.2v1.2h-1.2zM116.9 77.9h1.2v1.2h-1.2zM126.9 78.9h1.2v1.2h-1.2zM123.9 79.9h2.2v1.2h-2.2zM129.9 79.9h1.2v1.2h-1.2zM133.9 79.9h1.2v1.2h-1.2zM135.9 79.9h1.2v1.2h-1.2zM137.9 79.9h1.2v1.2h-1.2zM123.9 190.9h1.2v1.2h-1.2zM122.9 192.9h1.2v1.2h-1.2zM124.9 193.9h1.2v1.2h-1.2zM131.9 193.9h1.2v1.2h-1.2zM121.9 194.9h1.2v1.2h-1.2zM124.9 194.9h4.2v1.2h-4.2zM132.9 194.9h1.2v1.2h-1.2zM123.9 195.9h1.2v1.2h-1.2zM128.9 195.9h1.2v1.2h-1.2zM120.9 196.9h1.2v1.2h-1.2zM123.9 196.9h2.2v1.2h-2.2zM126.9 196.9h1.2v1.2h-1.2zM133.9 196.9h1.2v1.2h-1.2zM135.9 196.9h1.2v1.2h-1.2zM125.9 197.9h1.2v1.2h-1.2zM127.9 197.9h1.2v1.2h-1.2zM132.9 197.9h2.2v1.2h-2.2zM117.9 198.9h1.2v1.2h-1.2zM121.9 198.9h3.2v1.2h-3.2zM127.9 198.9h2.2v1.2h-2.2zM132.9 198.9h1.2v1.2h-1.2zM112.9 199.9h1.2v1.2h-1.2zM115.9 199.9h2.2v1.2h-2.2zM120.9 199.9h1.2v1.2h-1.2zM136.9 199.9h1.2v1.2h-1.2zM133.9 200.9h1.2v1.2h-1.2zM111.9 201.9h1.2v1.2h-1.2zM116.9 201.9h1.2v1.2h-1.2zM133.9 201.9h1.2v1.2h-1.2zM116.9 202.9h2.2v1.2h-2.2zM119.9 202.9h1.2v1.2h-1.2zM136.9 202.9h1.2v1.2h-1.2zM115.9 203.9h2.2v1.2h-2.2zM135.9 203.9h2.2v1.2h-2.2zM116.9 204.9h1.2v1.2h-1.2zM132.9 204.9h1.2v1.2h-1.2zM136.9 204.9h1.2v1.2h-1.2zM116.9 205.9h1.2v1.2h-1.2zM134.9 205.9h1.2v1.2h-1.2zM114.9 206.9h1.2v1.2h-1.2zM133.9 206.9h3.2v1.2h-3.2zM113.9 207.9h1.2v1.2h-1.2zM116.9 207.9h1.2v1.2h-1.2zM118.9 207.9h1.2v1.2h-1.2zM134.9 207.9h2.2v1.2h-2.2zM139.9 207.9h1.2v1.2h-1.2zM113.9 208.9h1.2v1.2h-1.2zM115.9 208.9h1.2v1.2h-1.2zM118.9 208.9h1.2v1.2h-1.2zM130.9 208.9h1.2v1.2h-1.2zM134.9 208.9h1.2v1.2h-1.2zM137.9 208.9h1.2v1.2h-1.2zM114.9 209.9h1.2v1.2h-1.2zM116.9 209.9h2.2v1.2h-2.2zM119.9 209.9h1.2v1.2h-1.2zM121.9 209.9h1.2v1.2h-1.2zM132.9 209.9h2.2v1.2h-2.2zM136.9 209.9h1.2v1.2h-1.2zM123.9 210.9h1.2v1.2h-1.2zM134.9 210.9h1.2v1.2h-1.2zM129.9 211.9h1.2v1.2h-1.2zM132.9 211.9h2.2v1.2h-2.2zM119.9 212.9h1.2v1.2h-1.2zM122.9 212.9h1.2v1.2h-1.2zM128.9 212.9h1.2v1.2h-1.2zM131.9 212.9h3.2v1.2h-3.2zM118.9 213.9h1.2v1.2h-1.2zM120.9 213.9h1.2v1.2h-1.2zM123.9 213.9h1.2v1.2h-1.2zM127.9 213.9h1.2v1.2h-1.2zM130.9 213.9h1.2v1.2h-1.2zM132.9 213.9h1.2v1.2h-1.2zM121.9 214.9h1.2v1.2h-1.2zM124.9 214.9h2.2v1.2h-2.2zM131.9 214.9h1.2v1.2h-1.2zM119.9 215.9h2.2v1.2h-2.2zM122.9 215.9h1.2v1.2h-1.2zM129.9 215.9h1.2v1.2h-1.2zM119.9 216.9h1.2v1.2h-1.2zM121.9 216.9h1.2v1.2h-1.2zM125.9 216.9h3.2v1.2h-3.2zM124.9 217.9h1.2v1.2h-1.2zM128.9 217.9h1.2v1.2h-1.2zM130.9 217.9h1.2v1.2h-1.2z"/>
<path fill="#00ff00" d="M129.9 64.9h1.2v1.2h-1.2zM124.9 65.9h1.2v1.2h-1.2zM128.9 65.9h1.2v1.2h-1.2zM130.9 65.9h1.2v1.2h-1.2zM133.9 65.9h2.2v1.2h-2.2zM136.9 65.9h1.2v1.2h-1.2zM121.9 66.9h1.2v1.2h-1.2zM125.9 66.9h3.2v1.2h-3.2zM134.9 66.9h1.2v1.2h-1.2zM139.9 66.9h1.2v1.2h-1.2zM120.9 67.9h1.2v1.2h-1.2zM142.9 67.9h1.2v1.2h-1.2zM118.9 68.9h1.2v1.2h-1.2zM141.9 68.9h1.2v1.2h-1.2zM145.9 68.9h1.2v1.2h-1.2zM144.9 69.9h2.2v1.2h-2.2zM116.9 70.9h1.2v1.2h-1.2zM116.9 71.9h1.2v1.2h-1.2zM144.9 71.9h1.2v1.2h-1.2zM115.9 72.9h2.2v1.2h-2.2zM145.9 72.9h1.2v1.2h-1.2zM118.9 73.9h1.2v1.2h-1.2zM145.9 73.9h1.2v1.2h-1.2zM115.9 74.9h2.2v1.2h-2.2zM115.9 75.9h2.2v1.2h-2.2zM143.9 76.9h1.2v1.2h-1.2zM119.9 77.9h1.2v1.2h-1.2zM123.9 77.9h2.2v1.2h-2.2zM138.9 77.9h1.2v1.2h-1.2zM142.9 77.9h1.2v1.2h-1.2zM121.9 78.9h1.2v1.2h-1.2zM124.9 78.9h1.2v1.2h-1.2zM138.9 78.9h3.2v1.2h-3.2zM126.9 79.9h2.2v1.2h-2.2zM130.9 79.9h1.2v1.2h-1.2zM132.9 79.9h1.2v1.2h-1.2zM122.9 193.9h1.2v1.2h-1.2zM125.9 193.9h1.2v1.2h-1.2zM119.9 195.9h3.2v1.2h-3.2zM125.9 195.9h2.2v1.2h-2.2zM133.9 195.9h1.2v1.2h-1.2zM116.9 196.9h1.2v1.2h-1.2zM122.9 196.9h1.2v1.2h-1.2zM125.9 196.9h1.2v1.2h-1.2zM128.9 196.9h1.2v1.2h-1.2zM130.9 196.9h1.2v1.2h-1.2zM117.9 197.9h1.2v1.2h-1.2zM120.9 197.9h1.2v1.2h-1.2zM130.9 197.9h2.2v1.2h-2.2zM134.9 197.9h1.2v1.2h-1.2zM116.9 198.9h1.2v1.2h-1.2zM129.9 198.9h1.2v1.2h-1.2zM131.9 198.9h1.2v1.2h-1.2zM118.9 199.9h1.2v1.2h-1.2zM124.9 199.9h1.2v1.2h-1.2zM128.9 199.9h2.2v1.2h-2.2zM131.9 199.9h2.2v1.2h-2.2zM134.9 199.9h1.2v1.2h-1.2zM119.9 200.9h1.2v1.2h-1.2zM123.9 200.9h1.2v1.2h-1.2zM134.9 200.9h1.2v1.2h-1.2zM117.9 201.9h1.2v1.2h-1.2zM119.9 201.9h1.2v1.2h-1.2zM127.9 201.9h1.2v1.2h-1.2zM115.9 202.9h1.2v1.2h-1.2zM118.9 202.9h1.2v1.2h-1.2zM129.9 202.9h1.2v1.2h-1.2zM133.9 202.9h1.2v1.2h-1.2zM118.9 203.9h1.2v1.2h-1.2zM128.9 203.9h1.2v1.2h-1.2zM131.9 203.9h1.2v1.2h-1.2zM133.9 203.9h2.2v1.2h-2.2zM115.9 204.9h1.2v1.2h-1.2zM118.9 204.9h1.2v1.2h-1.2zM120.9 204.9h1.2v1.2h-1.2zM134.9 204.9h2.2v1.2h-2.2zM115.9 205.9h1.2v1.2h-1.2zM117.9 205.9h2.2v1.2h-2.2zM121.9 205.9h1.2v1.2h-1.2zM130.9 205.9h1.2v1.2h-1.2zM132.9 206.9h1.2v1.2h-1.2zM136.9 206.9h1.2v1.2h-1.2zM117.9 207.9h1.2v1.2h-1.2zM132.9 207.9h2.2v1.2h-2.2zM117.9 208.9h1.2v1.2h-1.2zM118.9 209.9h1.2v1.2h-1.2zM129.9 209.9h2.2v1.2h-2.2zM134.9 209.9h2.2v1.2h-2.2zM120.9 210.9h1.2v1.2h-1.2zM130.9 210.9h1.2v1.2h-1.2zM133.9 210.9h1.2v1.2h-1.2zM115.9 211.9h1.2v1.2h-1.2zM119.9 211.9h1.2v1.2h-1.2zM127.9 211.9h1.2v1.2h-1.2zM121.9 212.9h1.2v1.2h-1.2zM126.9 212.9h1.2v1.2h-1.2zM129.9 212.9h2.2v1.2h-2.2zM116.9 213.9h2.2v1.2h-2.2zM119.9 213.9h1.2v1.2h-1.2zM121.9 213.9h1.2v1.2h-1.2zM126.9 213.9h1.2v1.2h-1.2zM131.9 213.9h1.2v1.2h-1.2zM122.9 214.9h2.2v1.2h-2.2zM129.9 214.9h2.2v1.2h-2.2zM123.9 215.9h3.2v1.2h-3.2zM129.9 216.9h1.2v1.2h-1.2z"/>
<path fill="#40ff00" d="M131.9 65.9h1.2v1.2h-1.2zM124.9 66.9h1.2v1.2h-1.2zM131.9 66.9h1.2v1.2h-1.2zM136.9 66.9h3.2v1.2h-3.2zM122.9 67.9h1.2v1.2h-1.2zM142.9 68.9h1.2v1.2h-1.2zM118.9 69.9h1.2v1.2h-1.2zM143.9 69.9h1.2v1.2h-1.2zM117.9 70.9h1.2v1.2h-1.2zM143.9 70.9h1.2v1.2h-1.2zM117.9 71.9h1.2v1.2h-1.2zM145.9 71.9h1.2v1.2h-1.2zM144.9 72.9h1.2v1.2h-1.2zM116.9 73.9h1.2v1.2h-1.2zM143.9 73.9h1.2v1.2h-1.2zM118.9 74.9h1.2v1.2h-1.2zM146.9 74.9h1.2v1.2h-1.2zM142.9 75.9h1.2v1.2h-1.2zM133.9 76.9h1.2v1.2h-1.2zM140.9 76.9h1.2v1.2h-1.2zM142.9 76.9h1.2v1.2h-1.2zM125.9 77.9h1.2v1.2h-1.2zM139.9 77.9h1.2v1.2h-1.2zM141.9 77.9h1.2v1.2h-1.2zM122.9 78.9h1.2v1.2h-1.2zM129.9 78.9h1.2v1.2h-1.2zM133.9 78.9h2.2v1.2h-2.2zM136.9 78.9h2.2v1.2h-2.2zM128.9 79.9h1.2v1.2h-1.2zM131.9 79.9h1.2v1.2h-1.2zM127.9 191.9h1.2v1.2h-1.2zM119.9 197.9h1.2v1.2h-1.2zM122.9 197.9h3.2v1.2h-3.2zM120.9 198.9h1.2v1.2h-1.2zM125.9 198.9h1.2v1.2h-1.2zM121.9 199.9h1.2v1.2h-1.2zM123.9 199.9h1.2v1.2h-1.2zM126.9 199.9h2.2v1.2h-2.2zM130.9 199.9h1.2v1.2h-1.2zM121.9 200.9h1.2v1.2h-1.2zM127.9 200.9h1.2v1.2h-1.2zM130.9 200.9h1.2v1.2h-1.2zM120.9 201.9h1.2v1.2h-1.2zM132.9 201.9h1.2v1.2h-1.2zM120.9 202.9h1.2v1.2h-1.2zM123.9 202.9h1.2v1.2h-1.2zM131.9 202.9h1.2v1.2h-1.2zM134.9 202.9h1.2v1.2h-1.2zM119.9 203.9h1.2v1.2h-1.2zM121.9 204.9h1.2v1.2h-1.2zM128.9 204.9h1.2v1.2h-1.2zM133.9 204.9h1.2v1.2h-1.2zM125.9 205.9h1.2v1.2h-1.2zM129.9 205.9h1.2v1.2h-1.2zM118.9 206.9h2.2v1.2h-2.2zM129.9 206.9h1.2v1.2h-1.2zM131.9 206.9h1.2v1.2h-1.2zM119.9 207.9h2.2v1.2h-2.2zM121.9 208.9h1.2v1.2h-1.2zM123.9 208.9h1.2v1.2h-1.2zM129.9 208.9h1.2v1.2h-1.2zM131.9 208.9h1.2v1.2h-1.2zM133.9 208.9h1.2v1.2h-1.2zM120.9 209.9h1.2v1.2h-1.2zM123.9 209.9h1.2v1.2h-1.2zM125.9 209.9h1.2v1.2h-1.2zM127.9 209.9h2.2v1.2h-2.2zM131.9 209.9h1.2v1.2h-1.2zM119.9 210.9h1.2v1.2h-1.2zM129.9 210.9h1.2v1.2h-1.2zM131.9 210.9h2.2v1.2h-2.2zM122.9 211.9h3.2v1.2h-3.2zM130.9 211.9h2.2v1.2h-2.2zM123.9 212.9h1.2v1.2h-1.2zM128.9 213.9h2.2v1.2h-2.2zM127.9 214.9h1.2v1.2h-1.2z"/>
<path fill="#80ff00" d="M123.9 66.9h1.2v1.2h-1.2zM130.9 66.9h1.2v1.2h-1.2zM133.9 66.9h1.2v1.2h-1.2zM135.9 66.9h1.2v1.2h-1.2zM133.9 67.9h2.2v1.2h-2.2zM138.9 67.9h1.2v1.2h-1.2zM119.9 68.9h4.2v1.2h-4.2zM119.9 69.9h1.2v1.2h-1.2zM128.9 69.9h1.2v1.2h-1.2zM118.9 71.9h2.2v1.2h-2.2zM117.9 73.9h1.2v1.2h-1.2zM142.9 74.9h2.2v1.2h-2.2zM119.9 75.9h1.2v1.2h-1.2zM122.9 75.9h1.2v1.2h-1.2zM119.9 76.9h1.2v1.2h-1.2zM121.9 76.9h1.2v1.2h-1.2zM127.9 76.9h1.2v1.2h-1.2zM135.9 76.9h1.2v1.2h-1.2zM122.9 77.9h1.2v1.2h-1.2zM126.9 77.9h1.2v1.2h-1.2zM129.9 77.9h1.2v1.2h-1.2zM136.9 77.9h2.2v1.2h-2.2zM127.9 78.9h2.2v1.2h-2.2zM131.9 78.9h2.2v1.2h-2.2zM135.9 78.9h1.2v1.2h-1.2zM130.9 195.9h1.2v1.2h-1.2zM121.9 197.9h1.2v1.2h-1.2zM128.9 197.9h1.2v1.2h-1.2zM130.9 198.9h1.2v1.2h-1.2zM119.9 199.9h1.2v1.2h-1.2zM122.9 199.9h1.2v1.2h-1.2zM120.9 200.9h1.2v1.2h-1.2zM122.9 200.9h1.2v1.2h-1.2zM128.9 200.9h2.2v1.2h-2.2zM131.9 200.9h1.2v1.2h-1.2zM118.9 201.9h1.2v1.2h-1.2zM122.9 201.9h1.2v1.2h-1.2zM126.9 201.9h1.2v1.2h-1.2zM129.9 201.9h1.2v1.2h-1.2zM131.9 201.9h1.2v1.2h-1.2zM128.9 202.9h1.2v1.2h-1.2zM130.9 202.9h1.2v1.2h-1.2zM132.9 202.9h1.2v1.2h-1.2zM117.9 203.9h1.2v1.2h-1.2zM120.9 203.9h2.2v1.2h-2.2zM127.9 203.9h1.2v1.2h-1.2zM132.9 203.9h1.2v1.2h-1.2zM119.9 204.9h1.2v1.2h-1.2zM126.9 204.9h1.2v1.2h-1.2zM131.9 204.9h1.2v1.2h-1.2zM119.9 205.9h1.2v1.2h-1.2zM132.9 205.9h2.2v1.2h-2.2zM116.9 206.9h2.2v1.2h-2.2zM121.9 207.9h1.2v1.2h-1.2zM124.9 207.9h1.2v1.2h-1.2zM126.9 207.9h1.2v1.2h-1.2zM119.9 208.9h1.2v1.2h-1.2zM124.9 208.9h1.2v1.2h-1.2zM122.9 210.9h1.2v1.2h-1.2zM125.9 210.9h1.2v1.2h-1.2zM128.9 210.9h1.2v1.2h-1.2zM121.9 211.9h1.2v1.2h-1.2zM125.9 211.9h1.2v1.2h-1.2zM124.9 212.9h2.2v1.2h-2.2zM127.9 212.9h1.2v1.2h-1.2zM125.9 213.9h1.2v1.2h-1.2z"/>
<path fill="#bfff00" d="M123.9 67.9h1.2v1.2h-1.2zM125.9 67.9h1.2v1.2h-1.2zM127.9 67.9h1.2v1.2h-1.2zM130.9 67.9h1.2v1.2h-1.2zM136.9 67.9h1.2v1.2h-1.2zM139.9 67.9h1.2v1.2h-1.2zM128.9 68.9h1.2v1.2h-1.2zM133.9 68.9h1.2v1.2h-1.2zM136.9 68.9h1.2v1.2h-1.2zM138.9 68.9h1.2v1.2h-1.2zM117.9 69.9h1.2v1.2h-1.2zM131.9 69.9h1.2v1.2h-1.2zM134.9 69.9h1.2v1.2h-1.2zM140.9 69.9h3.2v1.2h-3.2zM119.9 70.9h1.2v1.2h-1.2zM122.9 70.9h1.2v1.2h-1.2zM139.9 70.9h1.2v1.2h-1.2zM141.9 70.9h2.2v1.2h-2.2zM144.9 70.9h1.2v1.2h-1.2zM137.9 71.9h1.2v1.2h-1.2zM141.9 71.9h2.2v1.2h-2.2zM118.9 72.9h1.2v1.2h-1.2zM121.9 72.9h1.2v1.2h-1.2zM139.9 72.9h1.2v1.2h-1.2zM143.9 72.9h1.2v1.2h-1.2zM139.9 73.9h1.2v1.2h-1.2zM141.9 73.9h2.2v1.2h-2.2zM117.9 74.9h1.2v1.2h-1.2zM119.9 74.9h2.2v1.2h-2.2zM124.9 75.9h1.2v1.2h-1.2zM140.9 75.9h2.2v1.2h-2.2zM143.9 75.9h1.2v1.2h-1.2zM124.9 76.9h1.2v1.2h-1.2zM126.9 76.9h1.2v1.2h-1.2zM136.9 76.9h1.2v1.2h-1.2zM141.9 76.9h1.2v1.2h-1.2zM128.9 77.9h1.2v1.2h-1.2zM125.9 78.9h1.2v1.2h-1.2zM130.9 78.9h1.2v1.2h-1.2zM124.9 198.9h1.2v1.2h-1.2zM126.9 198.9h1.2v1.2h-1.2zM125.9 199.9h1.2v1.2h-1.2zM124.9 200.9h3.2v1.2h-3.2zM132.9 200.9h1.2v1.2h-1.2zM124.9 201.9h2.2v1.2h-2.2zM128.9 201.9h1.2v1.2h-1.2zM121.9 202.9h2.2v1.2h-2.2zM125.9 202.9h2.2v1.2h-2.2zM129.9 203.9h2.2v1.2h-2.2zM122.9 204.9h2.2v1.2h-2.2zM129.9 204.9h2.2v1.2h-2.2zM120.9 205.9h1.2v1.2h-1.2zM122.9 205.9h1.2v1.2h-1.2zM131.9 205.9h1.2v1.2h-1.2zM120.9 206.9h1.2v1.2h-1.2zM130.9 206.9h1.2v1.2h-1.2zM127.9 207.9h1.2v1.2h-1.2zM129.9 207.9h3.2v1.2h-3.2zM120.9 208.9h1.2v1.2h-1.2zM128.9 208.9h1.2v1.2h-1.2zM126.9 210.9h1.2v1.2h-1.2zM120.9 211.9h1.2v1.2h-1.2zM126.9 211.9h1.2v1.2h-1.2zM128.9 211.9h1.2v1.2h-1.2z"/>
<path fill="#ffff00" d="M128.9 66.9h1.2v1.2h-1.2zM132.9 66.9h1.2v1.2h-1.2zM124.9 67.9h1.2v1.2h-1.2zM126.9 67.9h1.2v1.2h-1.2zM128.9 67.9h2.2v1.2h-2.2zM131.9 67.9h1.2v1.2h-1.2zM135.9 67.9h1.2v1.2h-1.2zM137.9 67.9h1.2v1.2h-1.2zM125.9 68.9h1.2v1.2h-1.2zM129.9 68.9h1.2v1.2h-1.2zM134.9 68.9h2.2v1.2h-2.2zM139.9 68.9h2.2v1.2h-2.2zM120.9 69.9h1.2v1.2h-1.2zM122.9 69.9h1.2v1.2h-1.2zM118.9 70.9h1.2v1.2h-1.2zM140.9 70.9h1.2v1.2h-1.2zM120.9 71.9h1.2v1.2h-1.2zM134.9 71.9h1.2v1.2h-1.2zM136.9 71.9h1.2v1.2h-1.2zM143.9 71.9h1.2v1.2h-1.2zM120.9 72.9h1.2v1.2h-1.2zM140.9 72.9h2.2v1.2h-2.2zM119.9 73.9h2.2v1.2h-2.2zM139.9 74.9h1.2v1.2h-1.2zM141.9 74.9h1.2v1.2h-1.2zM123.9 75.9h1.2v1.2h-1.2zM133.9 75.9h1.2v1.2h-1.2zM136.9 75.9h1.2v1.2h-1.2zM122.9 76.9h1.2v1.2h-1.2zM128.9 76.9h1.2v1.2h-1.2zM134.9 76.9h1.2v1.2h-1.2zM139.9 76.9h1.2v1.2h-1.2zM127.9 77.9h1.2v1.2h-1.2zM132.9 77.9h4.2v1.2h-4.2zM123.9 201.9h1.2v1.2h-1.2zM124.9 202.9h1.2v1.2h-1.2zM127.9 202.9h1.2v1.2h-1.2zM125.9 203.9h2.2v1.2h-2.2zM125.9 204.9h1.2v1.2h-1.2zM127.9 204.9h1.2v1.2h-1.2zM124.9 205.9h1.2v1.2h-1.2zM128.9 205.9h1.2v1.2h-1.2zM122.9 206.9h1.2v1.2h-1.2zM125.9 206.9h4.2v1.2h-4.2zM122.9 207.9h2.2v1.2h-2.2zM122.9 208.9h1.2v1.2h-1.2zM122.9 209.9h1.2v1.2h-1.2zM124.9 209.9h1.2v1.2h-1.2zM126.9 209.9h1.2v1.2h-1.2zM124.9 210.9h1.2v1.2h-1.2z"/>
<path fill="#ffbf00" d="M129.9 66.9h1.2v1.2h-1.2zM132.9 67.9h1.2v1.2h-1.2zM123.9 68.9h2.2v1.2h-2.2zM126.9 68.9h2.2v1.2h-2.2zM130.9 68.9h1.2v1.2h-1.2zM132.9 68.9h1.2v1.2h-1.2zM121.9 69.9h1.2v1.2h-1.2zM124.9 69.9h2.2v1.2h-2.2zM132.9 69.9h1.2v1.2h-1.2zM135.9 69.9h1.2v1.2h-1.2zM137.9 69.9h1.2v1.2h-1.2zM120.9 70.9h1.2v1.2h-1.2zM123.9 70.9h1.2v1.2h-1.2zM130.9 70.9h1.2v1.2h-1.2zM135.9 70.9h1.2v1.2h-1.2zM121.9 71.9h1.2v1.2h-1.2zM138.9 71.9h1.2v1.2h-1.2zM140.9 71.9h1.2v1.2h-1.2zM117.9 72.9h1.2v1.2h-1.2zM122.9 72.9h2.2v1.2h-2.2zM137.9 72.9h1.2v1.2h-1.2zM142.9 72.9h1.2v1.2h-1.2zM121.9 73.9h2.2v1.2h-2.2zM125.9 73.9h1.2v1.2h-1.2zM134.9 73.9h1.2v1.2h-1.2zM140.9 73.9h1.2v1.2h-1.2zM121.9 74.9h1.2v1.2h-1.2zM126.9 74.9h1.2v1.2h-1.2zM133.9 74.9h2.2v1.2h-2.2zM126.9 75.9h1.2v1.2h-1.2zM129.9 75.9h1.2v1.2h-1.2zM132.9 75.9h1.2v1.2h-1.2zM134.9 75.9h1.2v1.2h-1.2zM139.9 75.9h1.2v1.2h-1.2zM123.9 76.9h1.2v1.2h-1.2zM125.9 76.9h1.2v1.2h-1.2zM131.9 76.9h2.2v1.2h-2.2zM138.9 76.9h1.2v1.2h-1.2zM130.9 77.9h2.2v1.2h-2.2zM122.9 203.9h2.2v1.2h-2.2zM124.9 204.9h1.2v1.2h-1.2zM126.9 205.9h2.2v1.2h-2.2zM121.9 206.9h1.2v1.2h-1.2zM123.9 206.9h2.2v1.2h-2.2zM125.9 207.9h1.2v1.2h-1.2zM128.9 207.9h1.2v1.2h-1.2zM125.9 208.9h1.2v1.2h-1.2zM127.9 208.9h1.2v1.2h-1.2z"/>
<path fill="#ff8000" d="M133.9 69.9h1.2v1.2h-1.2zM136.9 69.9h1.2v1.2h-1.2zM138.9 69.9h2.2v1.2h-2.2zM124.9 70.9h2.2v1.2h-2.2zM127.9 70.9h1.2v1.2h-1.2zM131.9 70.9h1.2v1.2h-1.2zM136.9 70.9h3.2v1.2h-3.2zM125.9 71.9h1.2v1.2h-1.2zM135.9 71.9h1.2v1.2h-1.2zM139.9 71.9h1.2v1.2h-1.2zM119.9 72.9h1.2v1.2h-1.2zM135.9 72.9h1.2v1.2h-1.2zM138.9 72.9h1.2v1.2h-1.2zM124.9 73.9h1.2v1.2h-1.2zM126.9 73.9h1.2v1.2h-1.2zM129.9 73.9h1.2v1.2h-1.2zM137.9 73.9h2.2v1.2h-2.2zM122.9 74.9h4.2v1.2h-4.2zM132.9 74.9h1.2v1.2h-1.2zM135.9 74.9h1.2v1.2h-1.2zM137.9 74.9h2.2v1.2h-2.2zM140.9 74.9h1.2v1.2h-1.2zM120.9 75.9h1.2v1.2h-1.2zM125.9 75.9h1.2v1.2h-1.2zM127.9 75.9h2.2v1.2h-2.2zM135.9 75.9h1.2v1.2h-1.2zM138.9 75.9h1.2v1.2h-1.2zM129.9 76.9h2.2v1.2h-2.2zM137.9 76.9h1.2v1.2h-1.2zM130.9 201.9h1.2v1.2h-1.2zM124.9 203.9h1.2v1.2h-1.2zM123.9 205.9h1.2v1.2h-1.2z"/>
<path fill="#ff4000" d="M137.9 68.9h1.2v1.2h-1.2zM126.9 69.9h1.2v1.2h-1.2zM130.9 69.9h1.2v1.2h-1.2zM121.9 70.9h1.2v1.2h-1.2zM126.9 70.9h1.2v1.2h-1.2zM129.9 70.9h1.2v1.2h-1.2zM132.9 70.9h1.2v1.2h-1.2zM134.9 70.9h1.2v1.2h-1.2zM122.9 71.9h3.2v1.2h-3.2zM126.9 71.9h1.2v1.2h-1.2zM124.9 72.9h3.2v1.2h-3.2zM130.9 72.9h1.2v1.2h-1.2zM133.9 72.9h2.2v1.2h-2.2zM136.9 72.9h1.2v1.2h-1.2zM123.9 73.9h1.2v1.2h-1.2zM128.9 73.9h1.2v1.2h-1.2zM131.9 73.9h1.2v1.2h-1.2zM135.9 73.9h1.2v1.2h-1.2zM127.9 74.9h1.2v1.2h-1.2zM129.9 74.9h1.2v1.2h-1.2zM131.9 74.9h1.2v1.2h-1.2zM136.9 74.9h1.2v1.2h-1.2zM121.9 75.9h1.2v1.2h-1.2zM131.9 75.9h1.2v1.2h-1.2zM126.9 208.9h1.2v1.2h-1.2z"/>
<path fill="#ff0000" d="M131.9 68.9h1.2v1.2h-1.2zM123.9 69.9h1.2v1.2h-1.2zM127.9 69.9h1.2v1.2h-1.2zM129.9 69.9h1.2v1.2h-1.2zM128.9 70.9h1.2v1.2h-1.2zM133.9 70.9h1.2v1.2h-1.2zM127.9 71.9h7.2v1.2h-7.2zM127.9 72.9h3.2v1.2h-3.2zM131.9 72.9h2.2v1.2h-2.2zM127.9 73.9h1.2v1.2h-1.2zM130.9 73.9h1.2v1.2h-1.2zM132.9 73.9h2.2v1.2h-2.2zM136.9 73.9h1.2v1.2h-1.2zM128.9 74.9h1.2v1.2h-1.2zM130.9 74.9h1.2v1.2h-1.2zM130.9 75.9h1.2v1.2h-1.2zM137.9 75.9h1.2v1.2h-1.2z"/>
</g>
</svg>
<svg width="1230" height="1230" viewBox="0.5 0.42 320 320">
<path fill="#000" d="M63.08 9.08h256.84v0.84h-256.84zM63.08 9.08h0.84v256.84h-0.84zM319.08 9.08h0.84v256.84h-0.84zM63.08 265.08h256.84v0.84h-256.84zM60 16h3.5v1h-3.5zM60 36h3.5v1h-3.5zM60 39h3.5v1h-3.5zM60 42h3.5v1h-3.5zM60 46h3.5v1h-3.5zM60 56h3.5v1h-3.5zM60 64h3.5v1h-3.5zM60 74h3.5v1h-3.5zM60 94h3.5v1h-3.5zM60 97h3.5v1h-3.5zM60 101h3.5v1h-3.5zM60 105h3.5v1h-3.5zM60 116h3.5v1h-3.5zM60 123h3.5v1h-3.5zM60 134h3.5v1h-3.5zM60 158h3.5v1h-3.5zM60 161h3.5v1h-3.5zM60 165h3.5v1h-3.5zM60 170h3.5v1h-3.5zM60 182h3.5v1h-3.5zM60 190h3.5v1h-3.5zM60 200h3.5v1h-3.5zM60 248h3.5v1h-3.5zM60 258h3.5v1h-3.5zM58 51h5.5v1h-5.5zM58 110h5.5v1h-5.5zM58 175h5.5v1h-5.5zM56 32h7.5v2h-7.5zM56 91h7.5v2h-7.5zM56 153h7.5v2h-7.5zM56 210h7.5v1h-7.5zM56 211h7.5v1h-7.5zM60 212h3.5v1h-3.5zM60 214h3.5v1h-3.5zM60 215h3.5v1h-3.5zM60 216h3.5v1h-3.5zM58 217h5.5v1h-5.5zM60 219h3.5v1h-3.5zM60 220h3.5v1h-3.5zM56 221h7.5v1h-7.5zM56 222h7.5v1h-7.5zM56 223h7.5v1h-7.5zM56 224h7.5v1h-7.5zM56 225h7.5v1h-7.5zM60 226h3.5v1h-3.5zM60 227h3.5v1h-3.5zM60 229h3.5v1h-3.5zM58 230h5.5v1h-5.5zM60 231h3.5v1h-3.5zM60 233h3.5v1h-3.5zM60 234h3.5v1h-3.5zM56 235h7.5v1h-7.5zM56 236h7.5v1h-7.5zM69 265.5h1v3.5h-1zM79 265.5h1v3.5h-1zM127 265.5h1v3.5h-1zM137 265.5h1v3.5h-1zM145 265.5h1v3.5h-1zM157 265.5h1v3.5h-1zM162 265.5h1v3.5h-1zM166 265.5h1v3.5h-1zM169 265.5h1v3.5h-1zM193 265.5h1v3.5h-1zM204 265.5h1v3.5h-1zM211 265.5h1v3.5h-1zM222 265.5h1v3.5h-1zM226 265.5h1v3.5h-1zM230 265.5h1v3.5h-1zM233 265.5h1v3.5h-1zM253 265.5h1v3.5h-1zM263 265.5h1v3.5h-1zM271 265.5h1v3.5h-1zM281 265.5h1v3.5h-1zM285 265.5h1v3.5h-1zM288 265.5h1v3.5h-1zM291 265.5h1v3.5h-1zM311 265.5h1v3.5h-1zM152 265.5h1v4.5h-1zM217 265.5h1v4.5h-1zM276 265.5h1v4.5h-1zM172 265.5h2v6.5h-2zM234 265.5h2v6.5h-2zM293 265.5h2v6.5h-2zM90 265.5h1v6.5h-1zM91 265.5h1v6.5h-1zM92 265.5h1v3.5h-1zM93 265.5h1v3.5h-1zM94 265.5h1v3.5h-1zM96 265.5h1v3.5h-1zM97 265.5h1v4.5h-1zM98 265.5h1v3.5h-1zM100 265.5h1v3.5h-1zM101 265.5h1v6.5h-1zM102 265.5h1v6.5h-1zM103 265.5h1v6.5h-1zM104 265.5h1v6.5h-1zM105 265.5h1v6.5h-1zM106 265.5h1v3.5h-1zM107 265.5h1v3.5h-1zM108 265.5h1v3.5h-1zM110 265.5h1v4.5h-1zM111 265.5h1v3.5h-1zM112 265.5h1v3.5h-1zM113 265.5h1v3.5h-1zM115 265.5h1v6.5h-1zM116 265.5h1v6.5h-1z"/>
</svg>
<svg width="1230" height="1230" viewBox="0 0 1230 1230"><g fill="none" stroke="#000" stroke-width="3.9" stroke-linecap="round" stroke-linejoin="round"><path transform="translate(144 124.5)" d="M1.9 7.5L6.5 1.9V25.4"/><path transform="translate(158.6 124.5)" d="M1.9 7.2C1.9 3.8 4.3 1.9 8.3 1.9C12.3 1.9 14.7 3.8 14.7 7.2V20.1C14.7 23.5 12.3 25.4 8.3 25.4C4.3 25.4 1.9 23.5 1.9 20.1Z"/><path transform="translate(178 97.8)" d="M14.8 2H4.7L2.1 12.7C4 10.4 6.3 9.5 8.6 9.5C12.5 9.5 14.8 12.2 14.8 16.5V20C14.8 23.6 12 25.7 8.3 25.7C5 25.7 2.9 24 1.9 21.2"/><path transform="translate(144 351.2)" d="M1.9 7.5L6.5 1.9V25.4"/><path transform="translate(158.6 351.2)" d="M1.9 7.2C1.9 3.8 4.3 1.9 8.3 1.9C12.3 1.9 14.7 3.8 14.7 7.2V20.1C14.7 23.5 12.3 25.4 8.3 25.4C4.3 25.4 1.9 23.5 1.9 20.1Z"/><path transform="translate(178 324.6)" d="M13.8 25.9V2L2 17.5H18.4"/><path transform="translate(144 589.6)" d="M1.9 7.5L6.5 1.9V25.4"/><path transform="translate(158.6 589.6)" d="M1.9 7.2C1.9 3.8 4.3 1.9 8.3 1.9C12.3 1.9 14.7 3.8 14.7 7.2V20.1C14.7 23.5 12.3 25.4 8.3 25.4C4.3 25.4 1.9 23.5 1.9 20.1Z"/><path transform="translate(178 562.6)" d="M2 6.1C3 3.2 5.2 1.9 8 1.9C11.8 1.9 14.3 4 14.3 7.2C14.3 10.8 12 13.6 9 13.8C12.5 13.8 14.5 16.5 14.5 19.8C14.5 23.8 11.8 26.1 8.1 26.1C4.8 26.1 2.6 24.2 1.9 21.5"/><path transform="translate(158.5 848)" d="M1.9 7.2C1.9 3.8 4.3 1.9 8.3 1.9C12.3 1.9 14.7 3.8 14.7 7.2V20.1C14.7 23.5 12.3 25.4 8.3 25.4C4.3 25.4 1.9 23.5 1.9 20.1Z"/><path transform="translate(404.6 1082.2)" d="M1.9 7.2C1.9 3.8 4.3 1.9 8.3 1.9C12.3 1.9 14.7 3.8 14.7 7.2V20.1C14.7 23.5 12.3 25.4 8.3 25.4C4.3 25.4 1.9 23.5 1.9 20.1Z"/><path transform="translate(666.3 1082.3)" d="M1.9 7.5L6.5 1.9V25.4"/><path transform="translate(681.9 1082.3)" d="M1.9 7.2C1.9 3.8 4.3 1.9 8.3 1.9C12.3 1.9 14.7 3.8 14.7 7.2V20.1C14.7 23.5 12.3 25.4 8.3 25.4C4.3 25.4 1.9 23.5 1.9 20.1Z"/><path transform="translate(700.7 1054.6)" d="M2 6.1C3 3.2 5.2 1.9 8 1.9C11.8 1.9 14.3 4 14.3 7.2C14.3 10.8 12 13.6 9 13.8C12.5 13.8 14.5 16.5 14.5 19.8C14.5 23.8 11.8 26.1 8.1 26.1C4.8 26.1 2.6 24.2 1.9 21.5"/><path transform="translate(904.9 1082.3)" d="M1.9 7.5L6.5 1.9V25.4"/><path transform="translate(919.8 1082.3)" d="M1.9 7.2C1.9 3.8 4.3 1.9 8.3 1.9C12.3 1.9 14.7 3.8 14.7 7.2V20.1C14.7 23.5 12.3 25.4 8.3 25.4C4.3 25.4 1.9 23.5 1.9 20.1Z"/><path transform="translate(939 1054.6)" d="M13.8 25.9V2L2 17.5H18.4"/><path transform="translate(1131.7 1082.3)" d="M1.9 7.5L6.5 1.9V25.4"/><path transform="translate(1147 1082.3)" d="M1.9 7.2C1.9 3.8 4.3 1.9 8.3 1.9C12.3 1.9 14.7 3.8 14.7 7.2V20.1C14.7 23.5 12.3 25.4 8.3 25.4C4.3 25.4 1.9 23.5 1.9 20.1Z"/><path transform="translate(1165.9 1055)" d="M14.8 2H4.7L2.1 12.7C4 10.4 6.3 9.5 8.6 9.5C12.5 9.5 14.8 12.2 14.8 16.5V20C14.8 23.6 12 25.7 8.3 25.7C5 25.7 2.9 24 1.9 21.2"/></g></svg>
<div class="t" id="xt" style="left:377px;top:1150px;font-size:56px;transform:scaleX(0.9686);transform-origin:0 0">BD Horizon™ RY743  FoxP3</div>
<div class="t" id="yt" style="left:23.5px;top:868px;font-size:56px;transform:rotate(-90deg) scaleX(0.9666);transform-origin:0 0">BD Horizon™ BUV395  CD4</div>
</body></html>
